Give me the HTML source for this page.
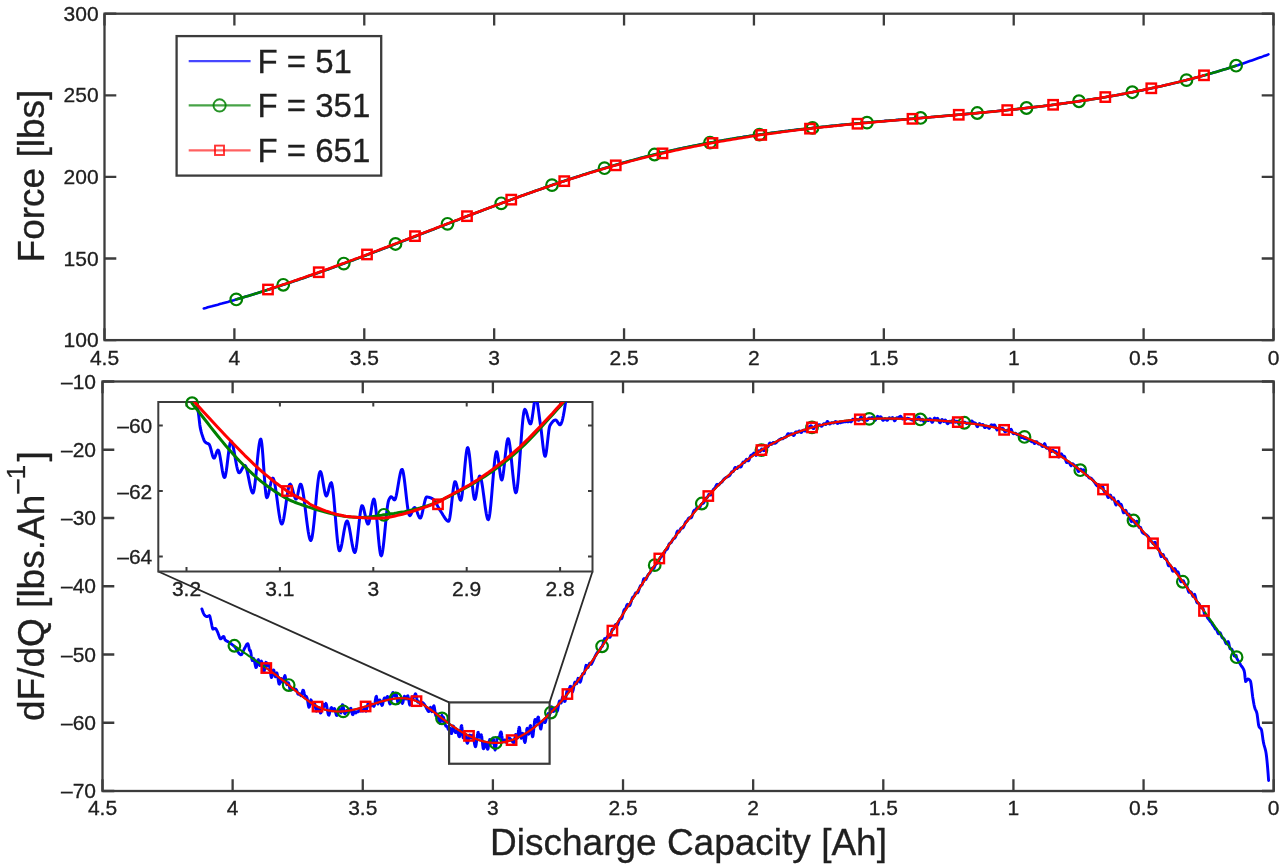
<!DOCTYPE html><html><head><meta charset="utf-8"><title>Force and dF/dQ vs Discharge Capacity</title><style>
html,body{margin:0;padding:0;background:#fff;overflow:hidden}svg{display:block}
text{font-family:"Liberation Sans",sans-serif;fill:#202020;stroke:#202020;stroke-width:0.3px}
.tk{font-size:21px}.lab{font-size:37px}.leg{font-size:33px}
</style></head><body>
<svg width="1280" height="865" viewBox="0 0 1280 865">
<rect width="1280" height="865" fill="#fff"/>
<defs><clipPath id="ct"><rect x="104.5" y="13.7" width="1169.0" height="326.4"/></clipPath>
<clipPath id="cb"><rect x="102.5" y="381.5" width="1171.2" height="409.5"/></clipPath>
<clipPath id="ci"><rect x="158.3" y="402.0" width="434.2" height="169.5"/></clipPath></defs>
<rect x="104.50" y="13.70" width="1169.00" height="326.40" fill="none" stroke="#3c3c3c" stroke-width="2.3"/>
<path d="M104.50 340.10V328.30M104.50 13.70V25.50M234.39 340.10V328.30M234.39 13.70V25.50M364.28 340.10V328.30M364.28 13.70V25.50M494.17 340.10V328.30M494.17 13.70V25.50M624.06 340.10V328.30M624.06 13.70V25.50M753.94 340.10V328.30M753.94 13.70V25.50M883.83 340.10V328.30M883.83 13.70V25.50M1013.72 340.10V328.30M1013.72 13.70V25.50M1143.61 340.10V328.30M1143.61 13.70V25.50M1273.50 340.10V328.30M1273.50 13.70V25.50M104.50 340.10H116.30M1273.50 340.10H1261.70M104.50 258.50H116.30M1273.50 258.50H1261.70M104.50 176.90H116.30M1273.50 176.90H1261.70M104.50 95.30H116.30M1273.50 95.30H1261.70M104.50 13.70H116.30M1273.50 13.70H1261.70" fill="none" stroke="#3c3c3c" stroke-width="2.3"/>
<g fill="none" stroke-linejoin="round" stroke-linecap="round">
<polyline points="203.8,308.4 205.8,307.9 207.8,307.3 209.8,306.8 211.8,306.3 213.8,305.7 215.8,305.2 217.8,304.7 219.8,304.1 221.8,303.6 223.8,303.0 225.8,302.4 227.8,301.9 229.8,301.3 231.8,300.7 233.8,300.2 235.8,299.6 237.8,299.0 239.8,298.4 241.8,297.8 243.8,297.2 245.8,296.6 247.8,296.0 249.8,295.4 251.8,294.8 253.8,294.2 255.8,293.6 257.8,293.0 259.8,292.3 261.8,291.7 263.8,291.1 265.8,290.4 267.8,289.8 269.8,289.2 271.8,288.5 273.8,287.9 275.8,287.2 277.8,286.6 279.8,285.9 281.8,285.3 283.8,284.6 285.8,284.0 287.8,283.3 289.8,282.6 291.8,281.9 293.8,281.3 295.8,280.6 297.8,279.9 299.8,279.2 301.8,278.5 303.8,277.9 305.8,277.2 307.8,276.5 309.8,275.8 311.8,275.1 313.8,274.4 315.8,273.7 317.8,273.0 319.8,272.3 321.8,271.5 323.8,270.8 325.8,270.1 327.8,269.4 329.8,268.7 331.8,267.9 333.8,267.2 335.8,266.5 337.8,265.8 339.8,265.0 341.8,264.3 343.8,263.6 345.8,262.8 347.8,262.1 349.8,261.4 351.8,260.6 353.8,259.9 355.8,259.1 357.8,258.4 359.8,257.6 361.8,256.9 363.8,256.1 365.8,255.4 367.8,254.6 369.8,253.8 371.8,253.1 373.8,252.3 375.8,251.6 377.8,250.8 379.8,250.0 381.8,249.3 383.8,248.5 385.8,247.7 387.8,247.0 389.8,246.2 391.8,245.4 393.8,244.7 395.8,243.9 397.8,243.1 399.8,242.4 401.8,241.6 403.8,240.8 405.8,240.0 407.8,239.3 409.8,238.5 411.8,237.7 413.8,236.9 415.8,236.2 417.8,235.4 419.8,234.6 421.8,233.8 423.8,233.0 425.8,232.3 427.8,231.5 429.8,230.7 431.8,229.9 433.8,229.2 435.8,228.4 437.8,227.6 439.8,226.8 441.8,226.0 443.8,225.3 445.8,224.5 447.8,223.7 449.8,222.9 451.8,222.2 453.8,221.4 455.8,220.6 457.8,219.9 459.8,219.1 461.8,218.3 463.8,217.5 465.8,216.8 467.8,216.0 469.8,215.2 471.8,214.5 473.8,213.7 475.8,212.9 477.8,212.2 479.8,211.4 481.8,210.7 483.8,209.9 485.8,209.1 487.8,208.4 489.8,207.6 491.8,206.9 493.8,206.1 495.8,205.4 497.8,204.6 499.8,203.9 501.8,203.1 503.8,202.4 505.8,201.7 507.8,200.9 509.8,200.2 511.8,199.4 513.8,198.7 515.8,198.0 517.8,197.2 519.8,196.5 521.8,195.8 523.8,195.1 525.8,194.3 527.8,193.6 529.8,192.9 531.8,192.2 533.8,191.5 535.8,190.8 537.8,190.1 539.8,189.4 541.8,188.7 543.8,188.0 545.8,187.3 547.8,186.6 549.8,185.9 551.8,185.2 553.8,184.5 555.8,183.8 557.8,183.2 559.8,182.5 561.8,181.8 563.8,181.1 565.8,180.5 567.8,179.8 569.8,179.1 571.8,178.5 573.8,177.8 575.8,177.2 577.8,176.5 579.8,175.9 581.8,175.2 583.8,174.6 585.8,174.0 587.8,173.3 589.8,172.7 591.8,172.1 593.8,171.5 595.8,170.8 597.8,170.2 599.8,169.6 601.8,169.0 603.8,168.4 605.8,167.8 607.8,167.2 609.8,166.6 611.8,166.0 613.8,165.5 615.8,164.9 617.8,164.3 619.8,163.7 621.8,163.2 623.8,162.6 625.8,162.0 627.8,161.5 629.8,160.9 631.8,160.4 633.8,159.9 635.8,159.3 637.8,158.8 639.8,158.3 641.8,157.7 643.8,157.2 645.8,156.7 647.8,156.2 649.8,155.7 651.8,155.2 653.8,154.7 655.8,154.2 657.8,153.7 659.8,153.2 661.8,152.8 663.8,152.3 665.8,151.8 667.8,151.4 669.8,150.9 671.8,150.5 673.8,150.0 675.8,149.6 677.8,149.1 679.8,148.7 681.8,148.3 683.8,147.8 685.8,147.4 687.8,147.0 689.8,146.6 691.8,146.2 693.8,145.8 695.8,145.4 697.8,145.0 699.8,144.6 701.8,144.2 703.8,143.8 705.8,143.4 707.8,143.1 709.8,142.7 711.8,142.3 713.8,142.0 715.8,141.6 717.8,141.2 719.8,140.9 721.8,140.5 723.8,140.2 725.8,139.9 727.8,139.5 729.8,139.2 731.8,138.9 733.8,138.5 735.8,138.2 737.8,137.9 739.8,137.6 741.8,137.2 743.8,136.9 745.8,136.6 747.8,136.3 749.8,136.0 751.8,135.7 753.8,135.4 755.8,135.1 757.8,134.8 759.8,134.6 761.8,134.3 763.8,134.0 765.8,133.7 767.8,133.4 769.8,133.2 771.8,132.9 773.8,132.6 775.8,132.4 777.8,132.1 779.8,131.9 781.8,131.6 783.8,131.3 785.8,131.1 787.8,130.9 789.8,130.6 791.8,130.4 793.8,130.1 795.8,129.9 797.8,129.6 799.8,129.4 801.8,129.2 803.8,129.0 805.8,128.7 807.8,128.5 809.8,128.3 811.8,128.1 813.8,127.8 815.8,127.6 817.8,127.4 819.8,127.2 821.8,127.0 823.8,126.8 825.8,126.6 827.8,126.3 829.8,126.1 831.8,125.9 833.8,125.7 835.8,125.5 837.8,125.3 839.8,125.1 841.8,124.9 843.8,124.8 845.8,124.6 847.8,124.4 849.8,124.2 851.8,124.0 853.8,123.8 855.8,123.6 857.8,123.4 859.8,123.2 861.8,123.1 863.8,122.9 865.8,122.7 867.8,122.5 869.8,122.3 871.8,122.2 873.8,122.0 875.8,121.8 877.8,121.6 879.8,121.5 881.8,121.3 883.8,121.1 885.8,120.9 887.8,120.8 889.8,120.6 891.8,120.4 893.8,120.2 895.8,120.1 897.8,119.9 899.8,119.7 901.8,119.6 903.8,119.4 905.8,119.2 907.8,119.1 909.8,118.9 911.8,118.7 913.8,118.5 915.8,118.4 917.8,118.2 919.8,118.0 921.8,117.9 923.8,117.7 925.8,117.5 927.8,117.4 929.8,117.2 931.8,117.0 933.8,116.9 935.8,116.7 937.8,116.5 939.8,116.3 941.8,116.2 943.8,116.0 945.8,115.8 947.8,115.7 949.8,115.5 951.8,115.3 953.8,115.1 955.8,115.0 957.8,114.8 959.8,114.6 961.8,114.4 963.8,114.3 965.8,114.1 967.8,113.9 969.8,113.7 971.8,113.5 973.8,113.3 975.8,113.2 977.8,113.0 979.8,112.8 981.8,112.6 983.8,112.4 985.8,112.2 987.8,112.0 989.8,111.8 991.8,111.6 993.8,111.4 995.8,111.2 997.8,111.0 999.8,110.8 1001.8,110.6 1003.8,110.4 1005.8,110.2 1007.8,110.0 1009.8,109.8 1011.8,109.6 1013.8,109.4 1015.8,109.2 1017.8,109.0 1019.8,108.7 1021.8,108.5 1023.8,108.3 1025.8,108.1 1027.8,107.9 1029.8,107.6 1031.8,107.4 1033.8,107.2 1035.8,106.9 1037.8,106.7 1039.8,106.5 1041.8,106.2 1043.8,106.0 1045.8,105.7 1047.8,105.5 1049.8,105.2 1051.8,105.0 1053.8,104.7 1055.8,104.5 1057.8,104.2 1059.8,103.9 1061.8,103.7 1063.8,103.4 1065.8,103.1 1067.8,102.8 1069.8,102.6 1071.8,102.3 1073.8,102.0 1075.8,101.7 1077.8,101.4 1079.8,101.1 1081.8,100.8 1083.8,100.5 1085.8,100.2 1087.8,99.9 1089.8,99.6 1091.8,99.3 1093.8,99.0 1095.8,98.7 1097.8,98.4 1099.8,98.0 1101.8,97.7 1103.8,97.4 1105.8,97.0 1107.8,96.7 1109.8,96.4 1111.8,96.0 1113.8,95.7 1115.8,95.3 1117.8,94.9 1119.8,94.6 1121.8,94.2 1123.8,93.9 1125.8,93.5 1127.8,93.1 1129.8,92.7 1131.8,92.3 1133.8,91.9 1135.8,91.6 1137.8,91.2 1139.8,90.8 1141.8,90.4 1143.8,89.9 1145.8,89.5 1147.8,89.1 1149.8,88.7 1151.8,88.3 1153.8,87.8 1155.8,87.4 1157.8,86.9 1159.8,86.5 1161.8,86.1 1163.8,85.6 1165.8,85.1 1167.8,84.7 1169.8,84.2 1171.8,83.7 1173.8,83.3 1175.8,82.8 1177.8,82.3 1179.8,81.8 1181.8,81.3 1183.8,80.8 1185.8,80.3 1187.8,79.8 1189.8,79.3 1191.8,78.7 1193.8,78.2 1195.8,77.7 1197.8,77.1 1199.8,76.6 1201.8,76.0 1203.8,75.5 1205.8,74.9 1207.8,74.4 1209.8,73.8 1211.8,73.2 1213.8,72.6 1215.8,72.0 1217.8,71.4 1219.8,70.8 1221.8,70.2 1223.8,69.6 1225.8,69.0 1227.8,68.4 1229.8,67.8 1231.8,67.1 1233.8,66.5 1235.8,65.8 1237.8,65.2 1239.8,64.5 1241.8,63.9 1243.8,63.2 1245.8,62.5 1247.8,61.8 1249.8,61.1 1251.8,60.4 1253.8,59.7 1255.8,59.0 1257.8,58.3 1259.8,57.6 1261.8,56.9 1263.8,56.1 1265.8,55.4 1267.8,54.7 1268.4,54.4" stroke="#0000ff" stroke-width="2.6"/>
<polyline points="236.2,299.4 238.2,298.8 240.2,298.3 242.2,297.7 244.2,297.1 246.2,296.5 248.2,295.9 250.2,295.3 252.2,294.7 254.2,294.0 256.2,293.4 258.2,292.8 260.2,292.2 262.2,291.6 264.2,290.9 266.2,290.3 268.2,289.7 270.2,289.0 272.2,288.4 274.2,287.7 276.2,287.1 278.2,286.4 280.2,285.8 282.2,285.1 284.2,284.4 286.2,283.8 288.2,283.1 290.2,282.4 292.2,281.8 294.2,281.1 296.2,280.4 298.2,279.7 300.2,279.1 302.2,278.4 304.2,277.7 306.2,277.0 308.2,276.3 310.2,275.6 312.2,274.9 314.2,274.2 316.2,273.5 318.2,272.8 320.2,272.1 322.2,271.4 324.2,270.6 326.2,269.9 328.2,269.2 330.2,268.5 332.2,267.8 334.2,267.0 336.2,266.3 338.2,265.6 340.2,264.9 342.2,264.1 344.2,263.4 346.2,262.6 348.2,261.9 350.2,261.2 352.2,260.4 354.2,259.7 356.2,258.9 358.2,258.2 360.2,257.4 362.2,256.7 364.2,255.9 366.2,255.2 368.2,254.4 370.2,253.7 372.2,252.9 374.2,252.1 376.2,251.4 378.2,250.6 380.2,249.9 382.2,249.1 384.2,248.3 386.2,247.6 388.2,246.8 390.2,246.0 392.2,245.2 394.2,244.5 396.2,243.7 398.2,242.9 400.2,242.2 402.2,241.4 404.2,240.6 406.2,239.8 408.2,239.1 410.2,238.3 412.2,237.5 414.2,236.7 416.2,236.0 418.2,235.2 420.2,234.4 422.2,233.6 424.2,232.8 426.2,232.1 428.2,231.3 430.2,230.5 432.2,229.7 434.2,229.0 436.2,228.2 438.2,227.4 440.2,226.6 442.2,225.9 444.2,225.1 446.2,224.3 448.2,223.5 450.2,222.8 452.2,222.0 454.2,221.2 456.2,220.4 458.2,219.7 460.2,218.9 462.2,218.1 464.2,217.3 466.2,216.6 468.2,215.8 470.2,215.0 472.2,214.3 474.2,213.5 476.2,212.8 478.2,212.0 480.2,211.2 482.2,210.5 484.2,209.7 486.2,209.0 488.2,208.2 490.2,207.4 492.2,206.7 494.2,205.9 496.2,205.2 498.2,204.4 500.2,203.7 502.2,203.0 504.2,202.2 506.2,201.5 508.2,200.7 510.2,200.0 512.2,199.3 514.2,198.5 516.2,197.8 518.2,197.1 520.2,196.3 522.2,195.6 524.2,194.9 526.2,194.2 528.2,193.5 530.2,192.7 532.2,192.0 534.2,191.3 536.2,190.6 538.2,189.9 540.2,189.2 542.2,188.5 544.2,187.8 546.2,187.1 548.2,186.4 550.2,185.7 552.2,185.0 554.2,184.3 556.2,183.7 558.2,183.0 560.2,182.3 562.2,181.6 564.2,181.0 566.2,180.3 568.2,179.6 570.2,179.0 572.2,178.3 574.2,177.7 576.2,177.0 578.2,176.4 580.2,175.7 582.2,175.1 584.2,174.4 586.2,173.8 588.2,173.2 590.2,172.5 592.2,171.9 594.2,171.3 596.2,170.7 598.2,170.1 600.2,169.5 602.2,168.9 604.2,168.3 606.2,167.7 608.2,167.1 610.2,166.5 612.2,165.9 614.2,165.3 616.2,164.7 618.2,164.2 620.2,163.6 622.2,163.0 624.2,162.5 626.2,161.9 628.2,161.3 630.2,160.8 632.2,160.3 634.2,159.7 636.2,159.2 638.2,158.7 640.2,158.1 642.2,157.6 644.2,157.1 646.2,156.6 648.2,156.1 650.2,155.6 652.2,155.1 654.2,154.6 656.2,154.1 658.2,153.6 660.2,153.1 662.2,152.6 664.2,152.2 666.2,151.7 668.2,151.3 670.2,150.8 672.2,150.3 674.2,149.9 676.2,149.5 678.2,149.0 680.2,148.6 682.2,148.2 684.2,147.7 686.2,147.3 688.2,146.9 690.2,146.5 692.2,146.1 694.2,145.7 696.2,145.3 698.2,144.9 700.2,144.5 702.2,144.1 704.2,143.7 706.2,143.3 708.2,143.0 710.2,142.6 712.2,142.2 714.2,141.9 716.2,141.5 718.2,141.2 720.2,140.8 722.2,140.5 724.2,140.1 726.2,139.8 728.2,139.4 730.2,139.1 732.2,138.8 734.2,138.4 736.2,138.1 738.2,137.8 740.2,137.5 742.2,137.2 744.2,136.9 746.2,136.6 748.2,136.2 750.2,135.9 752.2,135.7 754.2,135.4 756.2,135.1 758.2,134.8 760.2,134.5 762.2,134.2 764.2,133.9 766.2,133.7 768.2,133.4 770.2,133.1 772.2,132.8 774.2,132.6 776.2,132.3 778.2,132.1 780.2,131.8 782.2,131.5 784.2,131.3 786.2,131.0 788.2,130.8 790.2,130.5 792.2,130.3 794.2,130.1 796.2,129.8 798.2,129.6 800.2,129.4 802.2,129.1 804.2,128.9 806.2,128.7 808.2,128.4 810.2,128.2 812.2,128.0 814.2,127.8 816.2,127.6 818.2,127.3 820.2,127.1 822.2,126.9 824.2,126.7 826.2,126.5 828.2,126.3 830.2,126.1 832.2,125.9 834.2,125.7 836.2,125.5 838.2,125.3 840.2,125.1 842.2,124.9 844.2,124.7 846.2,124.5 848.2,124.3 850.2,124.1 852.2,123.9 854.2,123.8 856.2,123.6 858.2,123.4 860.2,123.2 862.2,123.0 864.2,122.8 866.2,122.7 868.2,122.5 870.2,122.3 872.2,122.1 874.2,121.9 876.2,121.8 878.2,121.6 880.2,121.4 882.2,121.2 884.2,121.1 886.2,120.9 888.2,120.7 890.2,120.5 892.2,120.4 894.2,120.2 896.2,120.0 898.2,119.9 900.2,119.7 902.2,119.5 904.2,119.4 906.2,119.2 908.2,119.0 910.2,118.8 912.2,118.7 914.2,118.5 916.2,118.3 918.2,118.2 920.2,118.0 922.2,117.8 924.2,117.7 926.2,117.5 928.2,117.3 930.2,117.2 932.2,117.0 934.2,116.8 936.2,116.6 938.2,116.5 940.2,116.3 942.2,116.1 944.2,116.0 946.2,115.8 948.2,115.6 950.2,115.4 952.2,115.3 954.2,115.1 956.2,114.9 958.2,114.7 960.2,114.6 962.2,114.4 964.2,114.2 966.2,114.0 968.2,113.8 970.2,113.7 972.2,113.5 974.2,113.3 976.2,113.1 978.2,112.9 980.2,112.7 982.2,112.6 984.2,112.4 986.2,112.2 988.2,112.0 990.2,111.8 992.2,111.6 994.2,111.4 996.2,111.2 998.2,111.0 1000.2,110.8 1002.2,110.6 1004.2,110.4 1006.2,110.2 1008.2,110.0 1010.2,109.8 1012.2,109.6 1014.2,109.3 1016.2,109.1 1018.2,108.9 1020.2,108.7 1022.2,108.5 1024.2,108.3 1026.2,108.0 1028.2,107.8 1030.2,107.6 1032.2,107.3 1034.2,107.1 1036.2,106.9 1038.2,106.6 1040.2,106.4 1042.2,106.2 1044.2,105.9 1046.2,105.7 1048.2,105.4 1050.2,105.2 1052.2,104.9 1054.2,104.7 1056.2,104.4 1058.2,104.1 1060.2,103.9 1062.2,103.6 1064.2,103.3 1066.2,103.1 1068.2,102.8 1070.2,102.5 1072.2,102.2 1074.2,101.9 1076.2,101.6 1078.2,101.4 1080.2,101.1 1082.2,100.8 1084.2,100.5 1086.2,100.2 1088.2,99.9 1090.2,99.6 1092.2,99.2 1094.2,98.9 1096.2,98.6 1098.2,98.3 1100.2,98.0 1102.2,97.6 1104.2,97.3 1106.2,97.0 1108.2,96.6 1110.2,96.3 1112.2,95.9 1114.2,95.6 1116.2,95.2 1118.2,94.9 1120.2,94.5 1122.2,94.1 1124.2,93.8 1126.2,93.4 1128.2,93.0 1130.2,92.6 1132.2,92.2 1134.2,91.8 1136.2,91.5 1138.2,91.1 1140.2,90.7 1142.2,90.2 1144.2,89.8 1146.2,89.4 1148.2,89.0 1150.2,88.6 1152.2,88.1 1154.2,87.7 1156.2,87.3 1158.2,86.8 1160.2,86.4 1162.2,85.9 1164.2,85.5 1166.2,85.0 1168.2,84.6 1170.2,84.1 1172.2,83.6 1174.2,83.1 1176.2,82.7 1178.2,82.2 1180.2,81.7 1182.2,81.2 1184.2,80.7 1186.2,80.2 1188.2,79.6 1190.2,79.1 1192.2,78.6 1194.2,78.1 1196.2,77.5 1198.2,77.0 1200.2,76.4 1202.2,75.9 1204.2,75.3 1206.2,74.8 1208.2,74.2 1210.2,73.6 1212.2,73.1 1214.2,72.5 1216.2,71.9 1218.2,71.3 1220.2,70.7 1222.2,70.1 1224.2,69.5 1226.2,68.9 1228.2,68.2 1230.2,67.6 1232.2,67.0 1234.2,66.3 1236.1,65.7" stroke="#008000" stroke-width="2.6"/>
</g>
<circle cx="236.25" cy="299.43" r="5.80" fill="none" stroke="#008000" stroke-width="2.2"/>
<circle cx="283.25" cy="284.78" r="5.80" fill="none" stroke="#008000" stroke-width="2.2"/>
<circle cx="343.75" cy="263.57" r="5.80" fill="none" stroke="#008000" stroke-width="2.2"/>
<circle cx="395.50" cy="243.99" r="5.80" fill="none" stroke="#008000" stroke-width="2.2"/>
<circle cx="447.50" cy="223.82" r="5.80" fill="none" stroke="#008000" stroke-width="2.2"/>
<circle cx="501.25" cy="203.32" r="5.80" fill="none" stroke="#008000" stroke-width="2.2"/>
<circle cx="552.00" cy="185.11" r="5.80" fill="none" stroke="#008000" stroke-width="2.2"/>
<circle cx="604.50" cy="168.18" r="5.80" fill="none" stroke="#008000" stroke-width="2.2"/>
<circle cx="654.50" cy="154.51" r="5.80" fill="none" stroke="#008000" stroke-width="2.2"/>
<circle cx="710.00" cy="142.65" r="5.80" fill="none" stroke="#008000" stroke-width="2.2"/>
<circle cx="759.50" cy="134.60" r="5.80" fill="none" stroke="#008000" stroke-width="2.2"/>
<circle cx="812.50" cy="127.97" r="5.80" fill="none" stroke="#008000" stroke-width="2.2"/>
<circle cx="867.00" cy="122.59" r="5.80" fill="none" stroke="#008000" stroke-width="2.2"/>
<circle cx="920.60" cy="117.97" r="5.80" fill="none" stroke="#008000" stroke-width="2.2"/>
<circle cx="977.25" cy="113.02" r="5.80" fill="none" stroke="#008000" stroke-width="2.2"/>
<circle cx="1026.50" cy="108.00" r="5.80" fill="none" stroke="#008000" stroke-width="2.2"/>
<circle cx="1079.00" cy="101.25" r="5.80" fill="none" stroke="#008000" stroke-width="2.2"/>
<circle cx="1132.30" cy="92.23" r="5.80" fill="none" stroke="#008000" stroke-width="2.2"/>
<circle cx="1186.50" cy="80.09" r="5.80" fill="none" stroke="#008000" stroke-width="2.2"/>
<circle cx="1236.10" cy="65.72" r="5.80" fill="none" stroke="#008000" stroke-width="2.2"/>
<polyline fill="none" stroke-linejoin="round" stroke-linecap="round" points="268.0,289.5 270.0,288.9 272.0,288.2 274.0,287.6 276.0,286.9 278.0,286.2 280.0,285.6 282.0,284.9 284.0,284.3 286.0,283.6 288.0,282.9 290.0,282.2 292.0,281.6 294.0,280.9 296.0,280.2 298.0,279.5 300.0,278.8 302.0,278.1 304.0,277.4 306.0,276.7 308.0,276.0 310.0,275.3 312.0,274.6 314.0,273.9 316.0,273.2 318.0,272.5 320.0,271.8 322.0,271.1 324.0,270.3 326.0,269.6 328.0,268.9 330.0,268.2 332.0,267.5 334.0,266.7 336.0,266.0 338.0,265.3 340.0,264.5 342.0,263.8 344.0,263.1 346.0,262.3 348.0,261.6 350.0,260.8 352.0,260.1 354.0,259.3 356.0,258.6 358.0,257.9 360.0,257.1 362.0,256.4 364.0,255.6 366.0,254.8 368.0,254.1 370.0,253.3 372.0,252.6 374.0,251.8 376.0,251.1 378.0,250.3 380.0,249.5 382.0,248.8 384.0,248.0 386.0,247.3 388.0,246.5 390.0,245.7 392.0,245.0 394.0,244.2 396.0,243.4 398.0,242.7 400.0,241.9 402.0,241.1 404.0,240.4 406.0,239.6 408.0,238.8 410.0,238.1 412.0,237.3 414.0,236.5 416.0,235.7 418.0,235.0 420.0,234.2 422.0,233.4 424.0,232.7 426.0,231.9 428.0,231.1 430.0,230.3 432.0,229.6 434.0,228.8 436.0,228.0 438.0,227.3 440.0,226.5 442.0,225.7 444.0,225.0 446.0,224.2 448.0,223.4 450.0,222.7 452.0,221.9 454.0,221.1 456.0,220.4 458.0,219.6 460.0,218.8 462.0,218.1 464.0,217.3 466.0,216.5 468.0,215.8 470.0,215.0 472.0,214.3 474.0,213.5 476.0,212.7 478.0,212.0 480.0,211.2 482.0,210.5 484.0,209.7 486.0,209.0 488.0,208.2 490.0,207.5 492.0,206.7 494.0,206.0 496.0,205.2 498.0,204.5 500.0,203.8 502.0,203.0 504.0,202.3 506.0,201.6 508.0,200.8 510.0,200.1 512.0,199.4 514.0,198.6 516.0,197.9 518.0,197.2 520.0,196.5 522.0,195.7 524.0,195.0 526.0,194.3 528.0,193.6 530.0,192.9 532.0,192.2 534.0,191.5 536.0,190.8 538.0,190.1 540.0,189.4 542.0,188.7 544.0,188.0 546.0,187.3 548.0,186.6 550.0,185.9 552.0,185.2 554.0,184.6 556.0,183.9 558.0,183.2 560.0,182.6 562.0,181.9 564.0,181.2 566.0,180.6 568.0,179.9 570.0,179.3 572.0,178.6 574.0,178.0 576.0,177.3 578.0,176.7 580.0,176.0 582.0,175.4 584.0,174.8 586.0,174.2 588.0,173.5 590.0,172.9 592.0,172.3 594.0,171.7 596.0,171.1 598.0,170.5 600.0,169.9 602.0,169.3 604.0,168.7 606.0,168.1 608.0,167.5 610.0,167.0 612.0,166.4 614.0,165.8 616.0,165.3 618.0,164.7 620.0,164.2 622.0,163.6 624.0,163.1 626.0,162.5 628.0,162.0 630.0,161.4 632.0,160.9 634.0,160.4 636.0,159.9 638.0,159.4 640.0,158.8 642.0,158.3 644.0,157.8 646.0,157.3 648.0,156.8 650.0,156.3 652.0,155.9 654.0,155.4 656.0,154.9 658.0,154.4 660.0,154.0 662.0,153.5 664.0,153.0 666.0,152.6 668.0,152.1 670.0,151.7 672.0,151.2 674.0,150.8 676.0,150.3 678.0,149.9 680.0,149.5 682.0,149.0 684.0,148.6 686.0,148.2 688.0,147.8 690.0,147.4 692.0,147.0 694.0,146.6 696.0,146.2 698.0,145.8 700.0,145.4 702.0,145.0 704.0,144.6 706.0,144.2 708.0,143.8 710.0,143.4 712.0,143.1 714.0,142.7 716.0,142.3 718.0,142.0 720.0,141.6 722.0,141.3 724.0,140.9 726.0,140.6 728.0,140.2 730.0,139.9 732.0,139.5 734.0,139.2 736.0,138.9 738.0,138.5 740.0,138.2 742.0,137.9 744.0,137.6 746.0,137.3 748.0,136.9 750.0,136.6 752.0,136.3 754.0,136.0 756.0,135.7 758.0,135.4 760.0,135.1 762.0,134.8 764.0,134.6 766.0,134.3 768.0,134.0 770.0,133.7 772.0,133.4 774.0,133.2 776.0,132.9 778.0,132.6 780.0,132.4 782.0,132.1 784.0,131.8 786.0,131.6 788.0,131.3 790.0,131.1 792.0,130.8 794.0,130.6 796.0,130.3 798.0,130.1 800.0,129.8 802.0,129.6 804.0,129.4 806.0,129.1 808.0,128.9 810.0,128.7 812.0,128.4 814.0,128.2 816.0,128.0 818.0,127.8 820.0,127.5 822.0,127.3 824.0,127.1 826.0,126.9 828.0,126.7 830.0,126.5 832.0,126.3 834.0,126.1 836.0,125.9 838.0,125.6 840.0,125.4 842.0,125.2 844.0,125.0 846.0,124.8 848.0,124.6 850.0,124.5 852.0,124.3 854.0,124.1 856.0,123.9 858.0,123.7 860.0,123.5 862.0,123.3 864.0,123.1 866.0,122.9 868.0,122.7 870.0,122.6 872.0,122.4 874.0,122.2 876.0,122.0 878.0,121.8 880.0,121.7 882.0,121.5 884.0,121.3 886.0,121.1 888.0,120.9 890.0,120.8 892.0,120.6 894.0,120.4 896.0,120.2 898.0,120.1 900.0,119.9 902.0,119.7 904.0,119.5 906.0,119.4 908.0,119.2 910.0,119.0 912.0,118.9 914.0,118.7 916.0,118.5 918.0,118.3 920.0,118.2 922.0,118.0 924.0,117.8 926.0,117.6 928.0,117.5 930.0,117.3 932.0,117.1 934.0,117.0 936.0,116.8 938.0,116.6 940.0,116.4 942.0,116.3 944.0,116.1 946.0,115.9 948.0,115.7 950.0,115.6 952.0,115.4 954.0,115.2 956.0,115.0 958.0,114.8 960.0,114.7 962.0,114.5 964.0,114.3 966.0,114.1 968.0,113.9 970.0,113.8 972.0,113.6 974.0,113.4 976.0,113.2 978.0,113.0 980.0,112.8 982.0,112.6 984.0,112.4 986.0,112.2 988.0,112.0 990.0,111.9 992.0,111.7 994.0,111.5 996.0,111.3 998.0,111.1 1000.0,110.9 1002.0,110.6 1004.0,110.4 1006.0,110.2 1008.0,110.0 1010.0,109.8 1012.0,109.6 1014.0,109.4 1016.0,109.2 1018.0,109.0 1020.0,108.7 1022.0,108.5 1024.0,108.3 1026.0,108.1 1028.0,107.8 1030.0,107.6 1032.0,107.4 1034.0,107.1 1036.0,106.9 1038.0,106.7 1040.0,106.4 1042.0,106.2 1044.0,105.9 1046.0,105.7 1048.0,105.4 1050.0,105.2 1052.0,104.9 1054.0,104.7 1056.0,104.4 1058.0,104.1 1060.0,103.9 1062.0,103.6 1064.0,103.3 1066.0,103.1 1068.0,102.8 1070.0,102.5 1072.0,102.2 1074.0,101.9 1076.0,101.7 1078.0,101.4 1080.0,101.1 1082.0,100.8 1084.0,100.5 1086.0,100.2 1088.0,99.9 1090.0,99.6 1092.0,99.2 1094.0,98.9 1096.0,98.6 1098.0,98.3 1100.0,98.0 1102.0,97.6 1104.0,97.3 1106.0,96.9 1108.0,96.6 1110.0,96.3 1112.0,95.9 1114.0,95.6 1116.0,95.2 1118.0,94.9 1120.0,94.5 1122.0,94.1 1124.0,93.7 1126.0,93.4 1128.0,93.0 1130.0,92.6 1132.0,92.2 1134.0,91.8 1136.0,91.4 1138.0,91.0 1140.0,90.6 1142.0,90.2 1144.0,89.8 1146.0,89.4 1148.0,89.0 1150.0,88.6 1152.0,88.1 1154.0,87.7 1156.0,87.3 1158.0,86.8 1160.0,86.4 1162.0,85.9 1164.0,85.5 1166.0,85.0 1168.0,84.5 1170.0,84.1 1172.0,83.6 1174.0,83.1 1176.0,82.6 1178.0,82.1 1180.0,81.6 1182.0,81.1 1184.0,80.6 1186.0,80.1 1188.0,79.6 1190.0,79.1 1192.0,78.6 1194.0,78.0 1196.0,77.5 1198.0,77.0 1200.0,76.4 1202.0,75.9 1204.0,75.3" stroke="#ff0000" stroke-width="2.5"/>
<rect x="263.30" y="284.81" width="9.40" height="9.40" fill="none" stroke="#ff0000" stroke-width="2.4"/>
<rect x="314.05" y="267.52" width="9.40" height="9.40" fill="none" stroke="#ff0000" stroke-width="2.4"/>
<rect x="362.30" y="249.77" width="9.40" height="9.40" fill="none" stroke="#ff0000" stroke-width="2.4"/>
<rect x="410.30" y="231.43" width="9.40" height="9.40" fill="none" stroke="#ff0000" stroke-width="2.4"/>
<rect x="462.30" y="211.46" width="9.40" height="9.40" fill="none" stroke="#ff0000" stroke-width="2.4"/>
<rect x="506.55" y="194.93" width="9.40" height="9.40" fill="none" stroke="#ff0000" stroke-width="2.4"/>
<rect x="559.55" y="176.44" width="9.40" height="9.40" fill="none" stroke="#ff0000" stroke-width="2.4"/>
<rect x="611.05" y="160.64" width="9.40" height="9.40" fill="none" stroke="#ff0000" stroke-width="2.4"/>
<rect x="657.80" y="148.67" width="9.40" height="9.40" fill="none" stroke="#ff0000" stroke-width="2.4"/>
<rect x="707.80" y="138.28" width="9.40" height="9.40" fill="none" stroke="#ff0000" stroke-width="2.4"/>
<rect x="756.55" y="130.25" width="9.40" height="9.40" fill="none" stroke="#ff0000" stroke-width="2.4"/>
<rect x="805.30" y="123.96" width="9.40" height="9.40" fill="none" stroke="#ff0000" stroke-width="2.4"/>
<rect x="852.80" y="119.03" width="9.40" height="9.40" fill="none" stroke="#ff0000" stroke-width="2.4"/>
<rect x="907.80" y="114.11" width="9.40" height="9.40" fill="none" stroke="#ff0000" stroke-width="2.4"/>
<rect x="954.05" y="110.08" width="9.40" height="9.40" fill="none" stroke="#ff0000" stroke-width="2.4"/>
<rect x="1002.55" y="105.40" width="9.40" height="9.40" fill="none" stroke="#ff0000" stroke-width="2.4"/>
<rect x="1048.40" y="100.09" width="9.40" height="9.40" fill="none" stroke="#ff0000" stroke-width="2.4"/>
<rect x="1100.60" y="92.37" width="9.40" height="9.40" fill="none" stroke="#ff0000" stroke-width="2.4"/>
<rect x="1146.60" y="83.58" width="9.40" height="9.40" fill="none" stroke="#ff0000" stroke-width="2.4"/>
<rect x="1199.30" y="70.61" width="9.40" height="9.40" fill="none" stroke="#ff0000" stroke-width="2.4"/>
<text class="tk" x="104.50" y="364.90" text-anchor="middle">4.5</text>
<text class="tk" x="234.39" y="364.90" text-anchor="middle">4</text>
<text class="tk" x="364.28" y="364.90" text-anchor="middle">3.5</text>
<text class="tk" x="494.17" y="364.90" text-anchor="middle">3</text>
<text class="tk" x="624.06" y="364.90" text-anchor="middle">2.5</text>
<text class="tk" x="753.94" y="364.90" text-anchor="middle">2</text>
<text class="tk" x="883.83" y="364.90" text-anchor="middle">1.5</text>
<text class="tk" x="1013.72" y="364.90" text-anchor="middle">1</text>
<text class="tk" x="1143.61" y="364.90" text-anchor="middle">0.5</text>
<text class="tk" x="1273.50" y="364.90" text-anchor="middle">0</text>
<text class="tk" x="98.60" y="347.10" text-anchor="end">100</text>
<text class="tk" x="98.60" y="265.50" text-anchor="end">150</text>
<text class="tk" x="98.60" y="183.90" text-anchor="end">200</text>
<text class="tk" x="98.60" y="102.30" text-anchor="end">250</text>
<text class="tk" x="98.60" y="20.70" text-anchor="end">300</text>
<text class="lab" transform="translate(43.5,176.1) rotate(-90)" text-anchor="middle">Force [lbs]</text>
<rect x="176.60" y="36.10" width="204.60" height="139.50" fill="#fff" stroke="#3c3c3c" stroke-width="2.3"/>
<path d="M188.7 61.20H250.6" stroke="#0000ff" stroke-width="2.2" fill="none" opacity="0.72"/>
<path d="M188.7 105.40H250.6" stroke="#008000" stroke-width="2.2" fill="none" opacity="0.72"/>
<circle cx="219.6" cy="105.40" r="6.1" fill="none" stroke="#008000" stroke-width="1.9" opacity="0.85"/>
<path d="M188.7 150.30H250.6" stroke="#ff0000" stroke-width="2.2" fill="none" opacity="0.62"/>
<rect x="215.0" y="145.60" width="9.0" height="9.4" fill="none" stroke="#ff0000" stroke-width="1.9" opacity="0.8"/>
<text class="leg" x="257.5" y="73.00">F = 51</text>
<text class="leg" x="257.5" y="117.20">F = 351</text>
<text class="leg" x="257.5" y="162.10">F = 651</text>
<rect x="102.50" y="381.50" width="1171.20" height="409.50" fill="none" stroke="#3c3c3c" stroke-width="2.3"/>
<path d="M102.50 791.00V779.20M102.50 381.50V393.30M232.63 791.00V779.20M232.63 381.50V393.30M362.77 791.00V779.20M362.77 381.50V393.30M492.90 791.00V779.20M492.90 381.50V393.30M623.03 791.00V779.20M623.03 381.50V393.30M753.17 791.00V779.20M753.17 381.50V393.30M883.30 791.00V779.20M883.30 381.50V393.30M1013.43 791.00V779.20M1013.43 381.50V393.30M1143.57 791.00V779.20M1143.57 381.50V393.30M1273.70 791.00V779.20M1273.70 381.50V393.30M102.50 381.50H114.30M1273.70 381.50H1261.90M102.50 449.75H114.30M1273.70 449.75H1261.90M102.50 518.00H114.30M1273.70 518.00H1261.90M102.50 586.25H114.30M1273.70 586.25H1261.90M102.50 654.50H114.30M1273.70 654.50H1261.90M102.50 722.75H114.30M1273.70 722.75H1261.90M102.50 791.00H114.30M1273.70 791.00H1261.90" fill="none" stroke="#3c3c3c" stroke-width="2.3"/>
<g clip-path="url(#cb)">
<polyline fill="none" stroke-linejoin="round" stroke-linecap="round" points="201.9,609.0 202.4,610.5 202.9,611.9 203.4,613.1 203.9,614.1 204.4,615.0 204.9,615.5 205.4,615.9 205.9,616.2 206.4,616.5 206.9,616.6 207.4,616.6 207.9,616.3 208.4,616.0 208.9,615.8 209.4,615.6 209.9,616.3 210.4,618.5 210.9,620.8 211.4,623.1 211.9,625.7 212.4,627.9 212.9,629.1 213.4,629.0 213.9,628.9 214.4,628.7 214.9,628.5 215.4,628.4 215.9,628.7 216.4,629.6 216.9,630.6 217.4,631.7 217.9,632.8 218.4,634.2 218.9,635.6 219.4,637.0 219.9,638.1 220.4,638.7 220.9,638.7 221.4,638.4 221.9,637.9 222.4,637.3 222.9,636.8 223.4,636.5 223.9,636.6 224.4,638.0 224.9,639.6 225.4,640.2 225.9,640.6 226.4,640.9 226.9,641.1 227.4,641.4 227.9,641.6 228.4,641.9 228.9,642.2 229.4,642.5 229.9,642.9 230.4,643.2 230.9,643.6 231.4,644.0 231.9,644.4 232.4,644.8 232.9,645.2 233.4,645.6 233.9,646.0 234.4,646.5 234.9,647.0 235.4,647.7 235.9,648.4 236.4,649.2 236.9,650.0 237.4,650.9 237.9,651.7 238.4,652.5 238.9,653.2 239.4,653.8 239.9,654.3 240.4,654.6 240.9,654.8 241.4,654.7 241.9,654.2 242.4,653.2 242.9,652.1 243.4,650.9 243.9,649.7 244.4,648.7 244.9,647.8 245.4,646.8 245.9,645.8 246.4,644.9 246.9,644.2 247.4,643.8 247.9,643.8 248.4,645.1 248.9,647.3 249.4,650.0 249.9,650.9 250.4,650.6 250.9,652.9 251.4,656.4 251.9,659.4 252.4,660.6 252.9,659.6 253.4,658.3 253.9,658.8 254.4,660.8 254.9,663.4 255.4,665.8 255.9,667.5 256.4,667.3 256.9,665.2 257.4,662.3 257.9,660.0 258.4,659.6 258.9,661.7 259.4,664.4 259.9,665.6 260.4,664.3 260.9,662.3 261.4,661.1 261.9,662.1 262.4,665.0 262.9,668.5 263.4,671.3 263.9,672.1 264.4,670.5 264.9,667.5 265.4,664.3 265.9,662.3 266.4,662.5 266.9,664.0 267.4,665.6 267.9,665.7 268.4,664.8 268.9,664.2 269.4,665.2 269.9,668.4 270.4,672.3 270.9,675.9 271.4,677.6 271.9,676.9 272.4,674.5 272.9,671.8 273.4,670.0 273.9,670.2 274.4,672.5 274.9,675.3 275.4,676.8 275.9,675.7 276.4,673.7 276.9,672.9 277.4,674.6 277.9,677.8 278.4,681.4 278.9,683.8 279.4,684.2 279.9,683.0 280.4,681.2 280.9,679.4 281.4,678.5 281.9,679.2 282.4,681.3 282.9,682.7 283.4,681.7 283.9,679.1 284.4,676.6 284.9,675.5 285.4,677.2 285.9,680.3 286.4,683.4 286.9,684.7 287.4,684.2 287.9,683.1 288.4,682.7 288.9,684.0 289.4,686.7 289.9,689.2 290.4,689.9 290.9,690.0 291.4,689.9 291.9,689.7 292.4,689.5 292.9,689.4 293.4,689.2 293.9,688.9 294.4,688.9 294.9,689.0 295.4,689.2 295.9,689.4 296.4,689.8 296.9,690.9 297.4,692.5 297.9,693.9 298.4,694.2 298.9,693.9 299.4,693.6 299.9,693.8 300.4,694.8 300.9,695.7 301.4,695.5 301.9,693.9 302.4,691.8 302.9,690.2 303.4,690.3 303.9,691.8 304.4,693.8 304.9,695.6 305.4,696.3 305.9,696.3 306.4,696.6 306.9,697.4 307.4,699.4 307.9,702.5 308.4,705.5 308.9,707.3 309.4,706.8 309.9,704.3 310.4,701.5 310.9,699.8 311.4,700.5 311.9,702.5 312.4,704.2 312.9,704.6 313.4,703.8 313.9,702.9 314.4,702.8 314.9,704.5 315.4,707.3 315.9,710.0 316.4,711.2 316.9,710.7 317.4,709.5 317.9,708.1 318.4,707.5 318.9,708.1 319.4,709.7 319.9,711.6 320.4,713.0 320.9,712.9 321.4,710.8 321.9,707.7 322.4,704.9 322.9,703.8 323.4,704.6 323.9,705.9 324.4,706.5 324.9,705.6 325.4,704.2 325.9,703.4 326.4,704.4 326.9,706.9 327.4,710.1 327.9,713.1 328.4,715.0 328.9,715.2 329.4,713.9 329.9,712.0 330.4,709.9 330.9,708.2 331.4,707.5 331.9,708.3 332.4,709.8 332.9,710.3 333.4,709.6 333.9,708.8 334.4,708.5 334.9,709.5 335.4,711.4 335.9,713.6 336.4,715.2 336.9,715.5 337.4,714.4 337.9,712.6 338.4,710.8 338.9,709.5 339.4,709.5 339.9,710.7 340.4,712.2 340.9,713.0 341.4,711.1 341.9,707.3 342.4,704.6 342.9,705.1 343.4,707.6 343.9,710.6 344.4,713.0 344.9,713.8 345.4,713.2 345.9,712.0 346.4,710.9 346.9,710.4 347.4,710.7 347.9,711.4 348.4,712.1 348.9,712.1 349.4,711.1 349.9,709.8 350.4,708.6 350.9,708.3 351.4,709.8 351.9,712.3 352.4,714.3 352.9,714.7 353.4,713.6 353.9,712.1 354.4,711.3 354.9,712.0 355.4,712.9 355.9,713.0 356.4,712.3 356.9,711.6 357.4,711.7 357.9,711.8 358.4,711.6 358.9,711.0 359.4,710.2 359.9,710.7 360.4,711.0 360.9,711.0 361.4,710.6 361.9,710.3 362.4,710.6 362.9,711.1 363.4,710.8 363.9,709.6 364.4,708.6 364.9,709.1 365.4,710.3 365.9,711.2 366.4,710.6 366.9,708.3 367.4,705.6 367.9,703.8 368.4,703.8 368.9,704.7 369.4,705.8 369.9,706.6 370.4,706.4 370.9,705.5 371.4,704.5 371.9,703.9 372.4,704.2 372.9,705.1 373.4,706.0 373.9,706.4 374.4,705.5 374.9,702.9 375.4,699.7 375.9,697.0 376.4,696.3 376.9,698.7 377.4,702.3 377.9,704.1 378.4,703.2 378.9,701.5 379.4,700.1 379.9,699.9 380.4,701.0 380.9,702.7 381.4,704.4 381.9,705.4 382.4,705.0 382.9,703.3 383.4,701.0 383.9,699.0 384.4,697.9 384.9,698.0 385.4,698.8 385.9,699.4 386.4,698.9 386.9,697.4 387.4,696.4 387.9,697.1 388.4,698.7 388.9,700.8 389.4,702.7 389.9,704.0 390.4,703.9 390.9,702.0 391.4,699.0 391.9,695.9 392.4,693.4 392.9,692.4 393.4,693.2 393.9,694.7 394.4,695.7 394.9,695.2 395.4,694.0 395.9,693.3 396.4,694.6 396.9,697.4 397.4,700.7 397.9,703.0 398.4,703.3 398.9,702.1 399.4,700.4 399.9,699.0 400.4,698.6 400.9,699.5 401.4,701.0 401.9,702.6 402.4,703.4 402.9,702.5 403.4,700.1 403.9,697.6 404.4,696.2 404.9,696.6 405.4,697.9 405.9,699.0 406.4,699.0 406.9,697.7 407.4,696.1 407.9,695.8 408.4,697.8 408.9,701.0 409.4,704.0 409.9,705.0 410.4,703.8 410.9,701.2 411.4,698.6 411.9,697.1 412.4,696.8 412.9,697.0 413.4,697.5 413.9,697.4 414.4,696.2 414.9,694.7 415.4,693.8 415.9,694.3 416.4,696.4 416.9,699.1 417.4,701.4 417.9,702.2 418.4,702.0 418.9,701.7 419.4,702.1 419.9,703.1 420.4,704.1 420.9,704.4 421.4,703.8 421.9,702.8 422.4,702.4 422.9,702.8 423.4,703.3 423.9,703.8 424.4,704.4 424.9,705.2 425.4,706.2 425.9,707.1 426.4,708.0 426.9,709.0 427.4,709.9 427.9,710.8 428.4,711.5 428.9,711.5 429.4,709.9 429.9,708.0 430.4,707.3 430.9,708.5 431.4,710.4 431.9,711.7 432.4,711.3 432.9,709.0 433.4,706.5 433.9,705.7 434.4,707.4 434.9,710.7 435.4,714.1 435.9,715.9 436.4,715.4 436.9,714.0 437.4,714.0 437.9,715.7 438.4,718.2 438.9,720.8 439.4,722.8 439.9,723.3 440.4,721.6 440.9,718.9 441.4,716.4 441.9,715.3 442.4,716.9 442.9,719.7 443.4,721.5 443.6,717.5 443.7,718.2 443.9,718.8 444.0,719.4 444.1,720.0 444.3,720.7 444.4,721.6 444.6,722.6 444.7,723.2 444.8,723.7 445.0,724.1 445.1,724.5 445.2,724.8 445.4,725.1 445.5,725.4 445.7,725.7 445.8,725.9 445.9,726.1 446.1,726.2 446.2,726.3 446.4,726.4 446.5,726.4 446.6,726.4 446.8,726.5 446.9,726.5 447.1,726.6 447.2,726.7 447.3,726.9 447.5,727.2 447.6,727.6 447.8,728.0 447.9,728.4 448.0,728.8 448.2,729.2 448.3,729.4 448.5,729.5 448.6,729.5 448.7,729.4 448.9,729.1 449.0,728.8 449.2,728.5 449.3,728.2 449.4,728.0 449.6,727.9 449.7,727.9 449.8,728.1 450.0,728.4 450.1,728.9 450.3,729.5 450.4,730.1 450.5,730.8 450.7,731.4 450.8,732.1 451.0,732.6 451.1,733.1 451.2,733.4 451.4,733.6 451.5,733.6 451.7,733.3 451.8,732.8 451.9,732.2 452.1,731.4 452.2,730.6 452.4,729.7 452.5,728.8 452.6,728.0 452.8,727.3 452.9,726.7 453.1,726.3 453.2,726.0 453.3,726.0 453.5,726.2 453.6,726.5 453.7,726.8 453.9,727.3 454.0,727.8 454.2,728.4 454.3,729.0 454.4,729.6 454.6,730.2 454.7,730.8 454.9,731.3 455.0,731.8 455.1,732.1 455.3,732.4 455.4,732.6 455.6,732.6 455.7,732.5 455.8,732.4 456.0,732.3 456.1,732.1 456.3,731.9 456.4,731.7 456.5,731.5 456.7,731.3 456.8,731.2 457.0,731.1 457.1,731.1 457.2,731.1 457.4,731.3 457.5,731.6 457.6,731.9 457.8,732.4 457.9,732.8 458.1,733.4 458.2,733.9 458.3,734.4 458.5,734.9 458.6,735.4 458.8,735.9 458.9,736.2 459.0,736.5 459.2,736.7 459.3,736.8 459.5,736.7 459.6,736.4 459.7,735.9 459.9,735.2 460.0,734.3 460.2,733.3 460.3,732.3 460.4,731.2 460.6,730.2 460.7,729.1 460.9,728.2 461.0,727.3 461.1,726.6 461.3,726.0 461.4,725.7 461.6,725.5 461.7,725.8 461.8,726.5 462.0,727.5 462.1,728.8 462.2,730.2 462.4,731.7 462.5,733.3 462.7,734.7 462.8,735.9 462.9,736.9 463.1,737.6 463.2,737.8 463.4,737.7 463.5,737.5 463.6,737.2 463.8,736.7 463.9,736.3 464.1,735.8 464.2,735.2 464.3,734.8 464.5,734.3 464.6,734.0 464.8,733.8 464.9,733.7 465.0,733.8 465.2,734.0 465.3,734.4 465.5,734.9 465.6,735.5 465.7,736.2 465.9,736.9 466.0,737.7 466.1,738.5 466.3,739.3 466.4,740.1 466.6,740.8 466.7,741.5 466.8,742.1 467.0,742.6 467.1,743.0 467.3,743.2 467.4,743.3 467.5,743.2 467.7,743.0 467.8,742.6 468.0,742.1 468.1,741.5 468.2,740.8 468.4,740.1 468.5,739.3 468.7,738.6 468.8,737.9 468.9,737.2 469.1,736.5 469.2,736.0 469.4,735.5 469.5,735.2 469.6,735.0 469.8,735.0 469.9,735.1 470.1,735.3 470.2,735.6 470.3,735.9 470.5,736.3 470.6,736.7 470.7,737.1 470.9,737.4 471.0,737.7 471.2,738.0 471.3,738.1 471.4,738.1 471.6,737.9 471.7,737.6 471.9,737.1 472.0,736.6 472.1,736.1 472.3,735.6 472.4,735.2 472.6,735.0 472.7,735.0 472.8,735.1 473.0,735.4 473.1,735.8 473.3,736.4 473.4,737.0 473.5,737.7 473.7,738.5 473.8,739.3 474.0,740.2 474.1,741.0 474.2,741.9 474.4,742.7 474.5,743.5 474.6,744.3 474.8,745.0 474.9,745.6 475.1,746.0 475.2,746.4 475.3,746.6 475.5,746.7 475.6,746.6 475.8,746.3 475.9,745.8 476.0,745.1 476.2,744.3 476.3,743.3 476.5,742.3 476.6,741.2 476.7,740.1 476.9,739.0 477.0,737.8 477.2,736.8 477.3,735.7 477.4,734.8 477.6,734.0 477.7,733.3 477.9,732.8 478.0,732.4 478.1,732.3 478.3,732.4 478.4,732.7 478.5,733.1 478.7,733.7 478.8,734.3 479.0,734.9 479.1,735.5 479.2,736.1 479.4,736.6 479.5,737.1 479.7,737.3 479.8,737.4 479.9,737.4 480.1,737.1 480.2,736.8 480.4,736.4 480.5,736.0 480.6,735.6 480.8,735.2 480.9,734.9 481.1,734.7 481.2,734.7 481.3,734.9 481.5,735.4 481.6,736.0 481.8,736.9 481.9,738.0 482.0,739.1 482.2,740.4 482.3,741.6 482.5,742.9 482.6,744.2 482.7,745.3 482.9,746.4 483.0,747.3 483.1,748.1 483.3,748.6 483.4,748.9 483.6,748.9 483.7,748.7 483.8,748.4 484.0,748.0 484.1,747.5 484.3,746.9 484.4,746.3 484.5,745.7 484.7,745.1 484.8,744.5 485.0,744.0 485.1,743.5 485.2,743.1 485.4,742.8 485.5,742.7 485.7,742.7 485.8,742.9 485.9,743.1 486.1,743.6 486.2,744.0 486.4,744.6 486.5,745.2 486.6,745.8 486.8,746.5 486.9,747.1 487.0,747.6 487.2,748.2 487.3,748.6 487.5,748.9 487.6,749.2 487.7,749.2 487.9,749.1 488.0,748.7 488.2,748.2 488.3,747.4 488.4,746.6 488.6,745.6 488.7,744.6 488.9,743.6 489.0,742.7 489.1,741.8 489.3,740.9 489.4,740.3 489.6,739.8 489.7,739.5 489.8,739.5 490.0,739.6 490.1,739.9 490.3,740.2 490.4,740.6 490.5,741.1 490.7,741.6 490.8,742.1 490.9,742.5 491.1,742.9 491.2,743.1 491.4,743.3 491.5,743.3 491.6,743.1 491.8,742.7 491.9,742.2 492.1,741.6 492.2,741.0 492.3,740.3 492.5,739.7 492.6,739.1 492.8,738.6 492.9,738.2 493.0,738.1 493.2,738.2 493.3,738.6 493.5,739.2 493.6,740.1 493.7,741.1 493.9,742.2 494.0,743.4 494.2,744.6 494.3,745.8 494.4,746.9 494.6,747.9 494.7,748.8 494.9,749.4 495.0,749.8 495.1,749.9 495.3,749.7 495.4,749.3 495.5,748.7 495.7,747.9 495.8,747.0 496.0,746.0 496.1,744.9 496.2,743.8 496.4,742.7 496.5,741.7 496.7,740.7 496.8,739.8 496.9,739.1 497.1,738.6 497.2,738.3 497.4,738.1 497.5,737.9 497.6,737.7 497.8,737.6 497.9,737.6 498.1,737.6 498.2,737.8 498.3,737.9 498.5,738.1 498.6,738.2 498.8,738.3 498.9,738.2 499.0,738.1 499.2,737.7 499.3,737.3 499.4,736.8 499.6,736.3 499.7,735.6 499.9,735.0 500.0,734.4 500.1,733.8 500.3,733.2 500.4,732.7 500.6,732.3 500.7,732.0 500.8,731.9 501.0,731.9 501.1,732.2 501.3,732.6 501.4,733.2 501.5,733.9 501.7,734.8 501.8,735.7 502.0,736.6 502.1,737.5 502.2,738.5 502.4,739.3 502.5,740.1 502.7,740.7 502.8,741.2 502.9,741.5 503.1,741.5 503.2,741.5 503.3,741.3 503.5,741.1 503.6,740.9 503.8,740.6 503.9,740.4 504.0,740.1 504.2,740.0 504.3,739.9 504.5,739.9 504.6,739.9 504.7,740.1 504.9,740.3 505.0,740.6 505.2,740.9 505.3,741.2 505.4,741.5 505.6,741.7 505.7,741.9 505.9,742.0 506.0,742.1 506.1,742.0 506.3,741.7 506.4,741.4 506.6,741.0 506.7,740.5 506.8,740.0 507.0,739.5 507.1,739.0 507.3,738.6 507.4,738.2 507.5,737.9 507.7,737.7 507.8,737.7 507.9,737.7 508.1,737.7 508.2,737.7 508.4,737.7 508.5,737.7 508.6,737.8 508.8,737.8 508.9,737.8 509.1,737.9 509.2,737.9 509.3,738.0 509.5,738.0 509.6,738.1 509.8,738.2 509.9,738.4 510.0,738.5 510.2,738.7 510.3,738.8 510.5,739.0 510.6,739.2 510.7,739.4 510.9,739.6 511.0,739.8 511.2,740.0 511.3,740.2 511.4,740.4 511.6,740.5 511.7,740.7 511.8,740.8 512.0,741.0 512.1,741.2 512.3,741.3 512.4,741.5 512.5,741.7 512.7,741.9 512.8,742.0 513.0,742.2 513.1,742.3 513.2,742.4 513.4,742.5 513.5,742.6 513.7,742.7 513.8,742.7 513.9,742.7 514.1,742.5 514.2,742.0 514.4,741.3 514.5,740.5 514.6,739.6 514.8,738.7 514.9,737.7 515.1,736.8 515.2,736.0 515.3,735.3 515.5,734.8 515.6,734.5 515.7,734.5 515.9,734.6 516.0,734.9 516.2,735.3 516.3,735.8 516.4,736.3 516.6,736.8 516.7,737.3 516.9,737.7 517.0,738.1 517.1,738.3 517.3,738.3 517.4,738.1 517.6,737.6 517.7,736.9 517.8,736.0 518.0,734.9 518.1,733.8 518.3,732.6 518.4,731.4 518.5,730.3 518.7,729.3 518.8,728.5 519.0,727.8 519.1,727.4 519.2,727.3 519.4,727.6 519.5,728.0 519.7,728.7 519.8,729.6 519.9,730.6 520.1,731.7 520.2,732.9 520.3,734.0 520.5,735.1 520.6,736.1 520.8,736.9 520.9,737.6 521.0,738.0 521.2,738.2 521.3,738.0 521.5,737.6 521.6,737.1 521.7,736.4 521.9,735.6 522.0,734.9 522.2,734.2 522.3,733.7 522.4,733.4 522.6,733.3 522.7,733.4 522.9,733.7 523.0,734.1 523.1,734.6 523.3,735.3 523.4,736.0 523.6,736.7 523.7,737.5 523.8,738.3 524.0,739.1 524.1,739.8 524.2,740.5 524.4,741.1 524.5,741.7 524.7,742.0 524.8,742.3 524.9,742.4 525.1,742.2 525.2,741.8 525.4,741.2 525.5,740.3 525.6,739.3 525.8,738.2 525.9,736.9 526.1,735.7 526.2,734.4 526.3,733.1 526.5,731.9 526.6,730.8 526.8,729.9 526.9,729.1 527.0,728.5 527.2,728.2 527.3,728.2 527.5,728.5 527.6,729.0 527.7,729.7 527.9,730.5 528.0,731.4 528.2,732.2 528.3,733.0 528.4,733.6 528.6,734.0 528.7,734.1 528.8,733.9 529.0,733.4 529.1,732.8 529.3,731.9 529.4,731.0 529.5,730.0 529.7,729.0 529.8,728.0 530.0,727.1 530.1,726.4 530.2,725.8 530.4,725.5 530.5,725.5 530.7,725.7 530.8,726.2 530.9,726.8 531.1,727.7 531.2,728.6 531.4,729.6 531.5,730.7 531.6,731.8 531.8,732.8 531.9,733.8 532.1,734.8 532.2,735.5 532.3,736.2 532.5,736.6 532.6,736.8 532.7,736.7 532.9,736.3 533.0,735.6 533.2,734.7 533.3,733.7 533.4,732.4 533.6,731.1 533.7,729.7 533.9,728.2 534.0,726.8 534.1,725.3 534.3,724.0 534.4,722.7 534.6,721.6 534.7,720.7 534.8,720.0 535.0,719.5 535.1,719.4 535.3,719.4 535.4,719.6 535.5,719.9 535.7,720.2 535.8,720.6 536.0,721.0 536.1,721.4 536.2,721.8 536.4,722.1 536.5,722.3 536.6,722.4 536.8,722.4 536.9,722.1 537.1,721.6 537.2,721.0 537.3,720.2 537.5,719.5 537.6,718.7 537.8,718.0 537.9,717.5 538.0,717.1 538.2,717.0 538.3,717.1 538.5,717.4 538.6,717.9 538.7,718.5 538.9,719.3 539.0,720.0 539.2,720.8 539.3,721.6 539.4,722.4 539.6,723.0 539.7,723.9 539.9,724.8 540.0,725.7 540.1,726.7 540.3,727.5 540.4,728.2 540.6,728.8 540.7,729.1 540.8,729.1 541.0,728.8 541.1,728.3 541.2,727.5 541.4,726.6 541.5,725.6 541.7,724.7 541.8,723.8 541.9,723.2 542.1,722.8 542.2,722.6 542.4,722.4 542.5,722.3 542.6,722.1 542.8,722.0 542.9,721.9 543.1,721.8 543.2,721.7 543.3,721.7 543.5,721.6 543.6,721.6 543.8,721.6 543.9,721.6 544.0,721.8 544.2,721.9 544.3,722.1 544.5,722.2 544.6,722.4 544.7,722.5 544.9,722.6 545.0,722.6 545.1,722.5 545.3,722.3 545.4,722.0 545.6,721.7 545.7,721.2 545.8,720.7 546.0,720.2 546.1,719.6 546.3,718.9 546.4,718.2 546.5,717.5 546.6,717.0 547.1,716.7 547.6,714.5 548.1,713.6 548.6,714.0 549.1,714.7 549.6,714.8 550.1,713.1 550.6,710.2 551.1,707.6 551.6,706.7 552.1,707.7 552.6,709.8 553.1,711.4 553.6,711.5 554.1,709.9 554.6,708.1 555.1,707.7 555.6,708.5 556.1,709.7 556.6,710.9 557.1,711.4 557.6,710.4 558.1,707.8 558.6,704.7 559.1,702.1 559.6,700.9 560.1,701.7 560.6,703.0 561.1,703.1 561.6,701.3 562.1,698.8 562.6,697.0 563.1,697.0 563.6,698.4 564.1,700.2 564.6,701.5 565.1,701.3 565.6,699.1 566.1,695.9 566.6,692.6 567.1,690.2 567.6,689.6 568.1,689.8 568.6,690.2 569.1,689.3 569.6,687.7 570.1,686.4 570.6,686.3 571.1,687.8 571.6,689.8 572.1,691.5 572.6,691.9 573.1,690.4 573.6,687.8 574.1,684.9 574.6,682.7 575.1,682.0 575.6,682.7 576.1,683.7 576.6,683.8 577.1,682.2 577.6,679.8 578.1,678.3 578.6,678.6 579.1,680.0 579.6,681.5 580.1,682.2 580.6,681.5 581.1,679.7 581.6,677.5 582.1,675.4 582.6,673.8 583.1,673.4 583.6,673.8 584.1,673.8 584.6,672.2 585.1,669.5 585.6,666.9 586.1,665.3 586.6,665.4 587.1,666.5 587.6,667.6 588.1,667.4 588.6,666.1 589.1,664.4 589.6,663.2 590.1,663.1 590.6,663.8 591.1,664.4 591.6,663.9 592.1,662.9 592.6,661.9 593.1,660.8 593.6,659.7 594.1,658.6 594.6,657.5 595.1,656.4 595.6,655.3 596.1,654.4 596.6,653.6 597.1,652.7 597.6,651.9 598.1,651.6 598.6,651.6 599.1,651.4 599.6,650.6 600.1,649.4 600.6,648.3 601.1,647.4 601.6,647.0 602.1,646.5 602.6,645.5 603.1,643.6 603.6,641.4 604.1,639.6 604.6,638.7 605.1,638.5 605.6,638.7 606.1,638.7 606.6,638.1 607.1,637.2 607.6,636.3 608.1,635.8 608.6,635.9 609.1,636.6 609.6,637.2 610.1,637.2 610.6,636.0 611.1,633.7 611.6,631.3 612.1,629.5 612.6,629.0 613.1,629.0 613.6,629.0 614.1,628.2 614.6,626.9 615.1,625.5 615.6,624.5 616.1,624.5 616.6,624.9 617.1,625.3 617.6,625.0 618.1,623.8 618.6,622.3 619.1,620.7 619.6,619.5 620.1,618.9 620.6,618.8 621.1,618.8 621.6,618.6 622.1,617.6 622.6,615.8 623.1,613.5 623.6,611.3 624.1,609.9 624.6,609.4 625.1,609.2 625.6,608.6 626.1,607.3 626.6,605.8 627.1,604.7 627.6,604.3 628.1,604.6 628.6,605.2 629.1,605.7 629.6,605.7 630.1,604.9 630.6,603.6 631.1,601.9 631.6,600.1 632.1,598.5 632.6,597.4 633.1,597.0 633.6,596.8 634.1,596.2 634.6,595.1 635.1,593.9 635.6,593.0 636.1,592.6 636.6,592.7 637.1,592.9 637.6,592.8 638.1,592.1 638.6,590.9 639.1,589.3 639.6,587.7 640.1,586.4 640.6,585.6 641.1,585.4 641.6,585.3 642.1,584.8 642.6,583.2 643.1,580.9 643.6,579.0 644.1,578.5 644.6,578.7 645.1,579.3 645.6,579.6 646.1,579.1 646.6,578.1 647.1,576.9 647.6,575.7 648.1,574.8 648.6,574.2 649.1,573.8 649.6,573.3 650.1,572.6 650.6,571.5 651.1,570.2 651.6,569.0 652.1,568.2 652.6,568.1 653.1,568.4 653.6,568.6 654.1,568.0 654.6,566.8 655.1,565.5 655.6,564.5 656.1,564.1 656.6,563.8 657.1,563.2 657.6,562.2 658.1,561.3 658.6,560.6 659.1,560.0 659.6,559.2 660.1,558.3 660.6,557.3 661.1,556.9 661.6,556.4 662.1,555.7 662.6,554.9 663.1,554.1 663.6,553.6 664.1,553.1 664.6,552.4 665.1,551.2 665.6,550.2 666.1,549.8 666.6,549.6 667.1,549.3 667.6,548.5 668.1,546.9 668.6,545.3 669.1,544.0 669.6,543.4 670.1,543.1 670.6,542.9 671.1,542.6 671.6,541.9 672.1,540.9 672.6,539.9 673.1,539.1 673.6,538.6 674.1,538.3 674.6,538.1 675.1,537.6 675.6,536.7 676.1,535.1 676.6,533.3 677.1,531.7 677.6,530.9 678.1,531.2 678.6,531.9 679.1,532.0 679.6,531.1 680.1,529.9 680.6,528.8 681.1,528.1 681.6,527.9 682.1,528.0 682.6,528.0 683.1,527.7 683.6,527.0 684.1,525.8 684.6,524.4 685.1,523.1 685.6,522.1 686.1,521.6 686.6,521.3 687.1,520.9 687.6,520.2 688.1,519.0 688.6,518.2 689.1,517.8 689.6,517.8 690.1,518.0 690.6,518.0 691.1,517.9 691.6,517.3 692.1,516.0 692.6,514.4 693.1,512.8 693.6,511.3 694.1,510.4 694.6,510.1 695.1,510.1 695.6,509.8 696.1,509.1 696.6,508.1 697.1,507.3 697.6,507.2 698.1,507.5 698.6,508.1 699.1,508.3 699.6,507.8 700.1,506.8 700.6,505.6 701.1,504.6 701.6,503.9 702.1,503.6 702.6,503.5 703.1,503.4 703.6,503.1 704.1,502.2 704.6,500.9 705.1,499.4 705.6,498.4 706.1,497.9 706.6,497.8 707.1,497.6 707.6,497.0 708.1,495.9 708.6,494.8 709.1,494.1 709.6,494.2 710.1,494.7 710.6,495.1 711.1,494.9 711.6,493.9 712.1,492.4 712.6,491.0 713.1,489.9 713.6,489.2 714.1,488.7 714.6,488.3 715.1,487.7 715.6,486.7 716.1,485.6 716.6,484.7 717.1,484.3 717.6,484.4 718.1,484.8 718.6,485.0 719.1,484.6 719.6,484.0 720.1,483.3 720.6,482.8 721.1,482.6 721.6,482.3 722.1,481.9 722.6,481.1 723.1,480.2 723.6,479.5 724.1,479.0 724.6,478.6 725.1,478.2 725.6,477.8 726.1,477.5 726.6,477.2 727.1,477.0 727.6,476.7 728.1,476.4 728.6,476.2 729.1,475.9 729.6,475.6 730.1,475.0 730.6,473.9 731.1,472.7 731.6,471.9 732.1,471.7 732.6,471.8 733.1,471.7 733.6,470.9 734.1,469.6 734.6,468.3 735.1,467.4 735.6,467.4 736.1,468.0 736.6,468.6 737.1,468.6 737.6,467.9 738.1,466.9 738.6,466.3 739.1,466.4 739.6,466.7 740.1,467.0 740.6,467.1 741.1,466.8 741.6,465.7 742.1,464.2 742.6,462.9 743.1,462.0 743.6,462.0 744.1,462.4 744.6,462.5 745.1,461.8 745.6,460.6 746.1,459.6 746.6,459.2 747.1,459.6 747.6,460.2 748.1,460.8 748.6,460.8 749.1,460.0 749.6,458.5 750.1,457.0 750.6,455.7 751.1,455.1 751.6,455.0 752.1,455.1 752.6,454.9 753.1,454.1 753.6,453.4 754.1,453.0 754.6,453.5 755.1,454.3 755.6,455.1 756.1,455.4 756.6,455.0 757.1,453.8 757.6,452.5 758.1,451.3 758.6,450.7 759.1,450.9 759.6,451.3 760.1,451.6 760.6,451.0 761.1,449.9 761.6,449.0 762.1,448.9 762.6,449.5 763.1,450.2 763.6,450.7 764.1,450.6 764.6,449.9 765.1,448.9 765.6,447.9 766.1,447.0 766.6,446.7 767.1,446.9 767.6,447.1 768.1,446.5 768.6,445.3 769.1,444.0 769.6,443.1 770.1,443.0 770.6,443.5 771.1,444.2 771.6,444.4 772.1,444.0 772.6,443.2 773.1,442.5 773.6,442.4 774.1,442.9 774.6,443.3 775.1,443.3 775.6,443.0 776.1,442.6 776.6,442.1 777.1,441.6 777.6,441.2 778.1,440.7 778.6,440.3 779.1,439.8 779.6,439.5 780.1,439.2 780.6,438.9 781.1,438.6 781.6,438.5 782.1,438.6 782.6,438.8 783.1,438.6 783.6,438.2 784.1,437.7 784.6,437.3 785.1,437.2 785.6,437.2 786.1,436.9 786.6,436.1 787.1,435.1 787.6,434.1 788.1,433.6 788.6,433.7 789.1,434.0 789.6,434.3 790.1,434.3 790.6,434.0 791.1,433.7 791.6,433.6 792.1,433.8 792.6,434.4 793.1,435.2 793.6,435.6 794.1,435.3 794.6,434.3 795.1,433.0 795.6,432.0 796.1,431.8 796.6,432.0 797.1,432.4 797.6,432.4 798.1,431.9 798.6,431.3 799.1,430.9 799.6,431.0 800.1,431.6 800.6,432.3 801.1,432.6 801.6,432.3 802.1,431.6 802.6,430.9 803.1,430.4 803.6,430.2 804.1,430.4 804.6,430.8 805.1,431.1 805.6,431.1 806.1,430.3 806.6,429.1 807.1,427.8 807.6,427.0 808.1,427.0 808.6,427.2 809.1,427.3 809.6,426.9 810.1,426.3 810.6,425.7 811.1,425.7 811.6,426.2 812.1,427.1 812.6,427.9 813.1,428.5 813.6,428.6 814.1,428.1 814.6,427.3 815.1,426.4 815.6,425.7 816.1,425.1 816.6,425.1 817.1,425.5 817.6,425.6 818.1,425.3 818.6,424.9 819.1,424.6 819.6,424.6 820.1,425.1 820.6,425.7 821.1,426.2 821.6,426.3 822.1,426.0 822.6,425.3 823.1,424.5 823.6,423.9 824.1,423.7 824.6,423.9 825.1,424.3 825.6,424.6 826.1,424.1 826.6,422.8 827.1,421.6 827.6,421.4 828.1,422.0 828.6,422.9 829.1,423.8 829.6,424.1 830.1,423.9 830.6,423.5 831.1,423.0 831.6,422.7 832.1,422.7 832.6,422.8 833.1,423.0 833.6,423.0 834.1,422.7 834.6,422.2 835.1,421.7 835.6,421.5 836.1,421.8 836.6,422.5 837.1,423.3 837.6,423.5 838.1,423.2 838.6,422.7 839.1,422.3 839.6,422.3 840.1,422.6 840.6,422.8 841.1,422.5 841.6,422.2 842.1,422.2 842.6,422.2 843.1,422.1 843.6,421.9 844.1,421.7 844.6,421.7 845.1,421.8 845.6,421.8 846.1,421.7 846.6,421.6 847.1,421.6 847.6,421.8 848.1,421.8 848.6,421.4 849.1,421.0 849.6,421.0 850.1,421.4 850.6,421.8 851.1,421.8 851.6,421.1 852.1,420.1 852.6,419.4 853.1,419.2 853.6,419.5 854.1,419.9 854.6,420.2 855.1,420.3 855.6,420.0 856.1,419.7 856.6,419.4 857.1,419.5 857.6,419.8 858.1,420.1 858.6,420.4 859.1,420.2 859.6,419.4 860.1,418.3 860.6,417.3 861.1,416.8 861.6,417.5 862.1,418.7 862.6,419.7 863.1,419.5 863.6,419.0 864.1,418.5 864.6,418.3 865.1,418.6 865.6,419.2 866.1,419.9 866.6,420.3 867.1,420.3 867.6,419.9 868.1,419.1 868.6,418.4 869.1,417.9 869.6,417.9 870.1,418.1 870.6,418.4 871.1,418.4 871.6,417.9 872.1,417.5 872.6,417.6 873.1,418.2 873.6,418.9 874.1,419.7 874.6,420.2 875.1,420.3 875.6,419.9 876.1,418.9 876.6,417.8 877.1,416.8 877.6,416.3 878.1,416.5 878.6,417.0 879.1,417.5 879.6,417.4 880.1,417.0 880.6,416.7 881.1,417.0 881.6,417.9 882.1,419.1 882.6,420.1 883.1,420.4 883.6,420.1 884.1,419.5 884.6,418.9 885.1,418.7 885.6,418.9 886.1,419.4 886.6,420.0 887.1,420.4 887.6,420.2 888.1,419.5 888.6,418.5 889.1,417.8 889.6,417.8 890.1,418.2 890.6,418.7 891.1,418.8 891.6,418.4 892.1,417.8 892.6,417.5 893.1,418.0 893.6,419.0 894.1,420.2 894.6,420.8 895.1,420.5 895.6,419.6 896.1,418.6 896.6,417.8 897.1,417.6 897.6,417.6 898.1,417.7 898.6,417.7 899.1,417.3 899.6,416.7 900.1,416.3 900.6,416.2 901.1,416.8 901.6,417.7 902.1,418.6 902.6,419.0 903.1,418.8 903.6,418.6 904.1,418.6 904.6,418.9 905.1,419.2 905.6,419.3 906.1,419.1 906.6,418.7 907.1,418.3 907.6,418.3 908.1,418.4 908.6,418.5 909.1,418.6 909.6,418.8 910.1,419.0 910.6,419.3 911.1,419.5 911.6,419.8 912.1,420.0 912.6,420.2 913.1,420.4 913.6,420.4 914.1,419.9 914.6,419.0 915.1,418.5 915.6,418.6 916.1,419.2 916.6,419.7 917.1,419.6 917.6,418.8 918.1,417.7 918.6,417.0 919.1,417.3 919.6,418.3 920.1,419.5 920.6,420.3 921.1,420.2 921.6,419.5 922.1,419.2 922.6,419.6 923.1,420.4 923.6,421.3 924.1,422.0 924.6,422.2 925.1,421.7 925.6,420.6 926.1,419.5 926.6,418.8 927.1,419.0 927.6,419.9 928.1,420.6 928.6,420.5 929.1,419.7 929.6,418.9 930.1,418.7 930.6,419.4 931.1,420.5 931.6,421.6 932.1,422.3 932.6,422.1 933.1,421.1 933.6,419.7 934.1,418.6 934.6,418.1 935.1,418.4 935.6,418.9 936.1,419.3 936.6,418.9 937.1,418.4 937.6,418.3 938.1,419.0 938.6,420.3 939.1,421.7 939.6,422.7 940.1,422.8 940.6,422.1 941.1,421.0 941.6,419.9 942.1,419.4 942.6,419.8 943.1,420.8 943.6,421.6 944.1,421.6 944.6,420.8 945.1,420.0 945.6,420.1 946.1,421.0 946.6,422.2 947.1,423.3 947.6,423.8 948.1,423.5 948.6,422.8 949.1,422.0 949.6,421.3 950.1,421.1 950.6,421.6 951.1,422.3 951.6,422.3 952.1,421.5 952.6,420.3 953.1,419.4 953.6,419.4 954.1,420.2 954.6,421.4 955.1,422.2 955.6,422.2 956.1,421.8 956.6,421.3 957.1,421.3 957.6,422.0 958.1,423.0 958.6,423.5 959.1,423.5 959.6,423.4 960.1,423.2 960.6,423.0 961.1,422.9 961.6,422.7 962.1,422.5 962.6,422.3 963.1,422.2 963.6,422.2 964.1,422.1 964.6,422.1 965.1,422.3 965.6,422.7 966.1,423.2 966.6,423.5 967.1,423.4 967.6,423.1 968.1,422.9 968.6,423.1 969.1,423.4 969.6,423.5 970.1,423.1 970.6,422.2 971.1,421.3 971.6,420.9 972.1,421.1 972.6,421.7 973.1,422.4 973.6,422.9 974.1,422.9 974.6,422.8 975.1,423.0 975.6,423.3 976.1,424.3 976.6,425.5 977.1,426.5 977.6,426.7 978.1,426.0 978.6,424.8 979.1,423.8 979.6,423.5 980.1,424.0 980.6,424.8 981.1,425.2 981.6,425.1 982.1,424.7 982.6,424.4 983.1,424.6 983.6,425.5 984.1,426.6 984.6,427.5 985.1,427.6 985.6,427.2 986.1,426.6 986.6,426.2 987.1,426.1 987.6,426.6 988.1,427.3 988.6,428.0 989.1,428.4 989.6,428.0 990.1,426.9 990.6,425.7 991.1,424.9 991.6,424.8 992.1,425.4 992.6,425.9 993.1,425.9 993.6,425.4 994.1,424.9 994.6,425.0 995.1,425.7 995.6,427.0 996.1,428.3 996.6,429.4 997.1,430.0 997.6,429.8 998.1,429.3 998.6,428.5 999.1,427.8 999.6,427.4 1000.1,427.5 1000.6,428.1 1001.1,428.7 1001.6,428.7 1002.1,428.5 1002.6,428.3 1003.1,428.5 1003.6,429.3 1004.1,430.3 1004.6,431.2 1005.1,431.8 1005.6,431.8 1006.1,431.3 1006.6,430.7 1007.1,430.1 1007.6,430.0 1008.1,430.4 1008.6,431.2 1009.1,431.9 1009.6,431.9 1010.1,430.8 1010.6,429.5 1011.1,429.2 1011.6,430.0 1012.1,431.4 1012.6,432.7 1013.1,433.7 1013.6,433.8 1014.1,433.7 1014.6,433.4 1015.1,433.2 1015.6,433.4 1016.1,433.8 1016.6,434.3 1017.1,434.7 1017.6,434.7 1018.1,434.4 1018.6,434.1 1019.1,434.0 1019.6,434.4 1020.1,435.5 1020.6,436.8 1021.1,437.6 1021.6,437.7 1022.1,437.3 1022.6,437.0 1023.1,437.2 1023.6,437.9 1024.1,438.4 1024.6,438.5 1025.1,438.4 1025.6,438.6 1026.1,438.9 1026.6,439.2 1027.1,439.3 1027.6,439.3 1028.1,439.5 1028.6,439.9 1029.1,440.3 1029.6,440.4 1030.1,440.6 1030.6,440.8 1031.1,441.3 1031.6,441.7 1032.1,441.7 1032.6,441.4 1033.1,441.6 1033.6,442.3 1034.1,443.1 1034.6,443.6 1035.1,443.3 1035.6,442.4 1036.1,441.7 1036.6,441.6 1037.1,442.1 1037.6,442.9 1038.1,443.7 1038.6,444.1 1039.1,444.2 1039.6,444.1 1040.1,444.1 1040.6,444.3 1041.1,444.9 1041.6,445.6 1042.1,446.3 1042.6,446.6 1043.1,446.2 1043.6,445.2 1044.1,444.2 1044.6,443.6 1045.1,444.3 1045.6,446.1 1046.1,447.8 1046.6,448.3 1047.1,448.0 1047.6,447.7 1048.1,447.6 1048.6,448.1 1049.1,449.1 1049.6,450.3 1050.1,451.3 1050.6,451.8 1051.1,451.7 1051.6,451.1 1052.1,450.5 1052.6,450.1 1053.1,450.2 1053.6,450.8 1054.1,451.5 1054.6,452.0 1055.1,451.8 1055.6,451.5 1056.1,451.8 1056.6,452.7 1057.1,453.9 1057.6,455.2 1058.1,456.4 1058.6,457.0 1059.1,457.0 1059.6,456.2 1060.1,455.2 1060.6,454.2 1061.1,453.7 1061.6,454.0 1062.1,454.9 1062.6,456.0 1063.1,456.5 1063.6,456.4 1064.1,456.2 1064.6,456.6 1065.1,458.0 1065.6,459.8 1066.1,461.5 1066.6,462.6 1067.1,462.7 1067.6,462.3 1068.1,461.9 1068.6,461.8 1069.1,462.2 1069.6,463.2 1070.1,464.3 1070.6,465.2 1071.1,465.7 1071.6,465.2 1072.1,464.4 1072.6,463.7 1073.1,463.8 1073.6,464.6 1074.1,465.6 1074.6,466.2 1075.1,466.3 1075.6,465.8 1076.1,465.6 1076.6,466.3 1077.1,468.0 1077.6,469.8 1078.1,471.2 1078.6,471.5 1079.1,470.9 1079.6,469.9 1080.1,469.2 1080.6,469.2 1081.1,469.4 1081.6,470.0 1082.1,470.5 1082.6,470.4 1083.1,470.1 1083.6,469.8 1084.1,469.9 1084.6,470.8 1085.1,472.3 1085.6,473.9 1086.1,475.0 1086.6,475.4 1087.1,475.5 1087.6,475.8 1088.1,476.4 1088.6,477.2 1089.1,477.9 1089.6,478.1 1090.1,478.0 1090.6,477.9 1091.1,478.2 1091.6,478.6 1092.1,479.2 1092.6,479.7 1093.1,480.3 1093.6,481.0 1094.1,481.8 1094.6,482.5 1095.1,483.2 1095.6,483.9 1096.1,484.7 1096.6,485.3 1097.1,485.9 1097.6,485.8 1098.1,485.1 1098.6,484.6 1099.1,485.0 1099.6,486.1 1100.1,487.2 1100.6,487.8 1101.1,487.4 1101.6,486.4 1102.1,485.7 1102.6,486.1 1103.1,487.7 1103.6,489.7 1104.1,491.4 1104.6,492.0 1105.1,491.7 1105.6,491.5 1106.1,492.2 1106.6,493.6 1107.1,495.2 1107.6,496.6 1108.1,497.6 1108.6,497.6 1109.1,496.8 1109.6,495.7 1110.1,495.0 1110.6,495.3 1111.1,496.8 1111.6,498.4 1112.1,499.1 1112.6,498.6 1113.1,497.9 1113.6,497.8 1114.1,498.9 1114.6,500.8 1115.1,502.8 1115.6,504.4 1116.1,504.9 1116.6,504.2 1117.1,503.0 1117.6,501.8 1118.1,501.3 1118.6,501.9 1119.1,503.0 1119.6,504.1 1120.1,504.3 1120.6,504.1 1121.1,504.3 1121.6,505.4 1122.1,507.4 1122.6,509.8 1123.1,511.8 1123.6,512.8 1124.1,512.6 1124.6,511.6 1125.1,510.6 1125.6,510.2 1126.1,510.9 1126.6,512.5 1127.1,514.2 1127.6,515.1 1128.1,514.7 1128.6,514.0 1129.1,514.2 1129.6,515.7 1130.1,517.8 1130.6,519.9 1131.1,521.3 1131.6,521.7 1132.1,521.3 1132.6,520.7 1133.1,520.2 1133.6,520.2 1134.1,521.1 1134.6,522.6 1135.1,523.5 1135.6,523.1 1136.1,522.1 1136.6,521.2 1137.1,521.2 1137.6,522.7 1138.1,524.7 1138.6,526.6 1139.1,527.4 1139.6,527.4 1140.1,527.2 1140.6,527.5 1141.1,528.8 1141.6,530.6 1142.1,532.1 1142.6,532.7 1143.1,533.1 1143.6,533.4 1144.1,533.7 1144.6,533.9 1145.1,534.2 1145.6,534.5 1146.1,534.7 1146.6,535.1 1147.1,535.5 1147.6,536.0 1148.1,536.5 1148.6,537.1 1149.1,538.2 1149.6,539.4 1150.1,540.5 1150.6,541.0 1151.1,541.1 1151.6,541.4 1152.1,542.0 1152.6,542.9 1153.1,543.7 1153.6,543.9 1154.1,543.3 1154.6,542.6 1155.1,542.3 1155.6,542.9 1156.1,544.2 1156.6,545.7 1157.1,547.0 1157.6,547.7 1158.1,548.1 1158.6,548.7 1159.1,549.7 1159.6,551.3 1160.1,553.4 1160.6,555.4 1161.1,556.6 1161.6,556.5 1162.1,555.6 1162.6,554.5 1163.1,554.4 1163.6,555.4 1164.1,556.9 1164.6,558.2 1165.1,558.7 1165.6,558.8 1166.1,558.8 1166.6,559.4 1167.1,560.9 1167.6,563.0 1168.1,564.8 1168.6,565.8 1169.1,565.9 1169.6,565.7 1170.1,565.5 1170.6,565.8 1171.1,566.8 1171.6,568.3 1172.1,569.8 1172.6,571.0 1173.1,571.3 1173.6,570.5 1174.1,569.4 1174.6,568.6 1175.1,568.8 1175.6,569.9 1176.1,571.1 1176.6,571.9 1177.1,571.9 1177.6,571.8 1178.1,572.1 1178.6,573.4 1179.1,575.4 1179.6,577.7 1180.1,579.9 1180.6,581.3 1181.1,581.9 1181.6,581.7 1182.1,581.3 1182.6,580.8 1183.1,580.6 1183.6,581.0 1184.1,582.2 1184.6,583.6 1185.1,584.4 1185.6,584.6 1186.1,584.9 1186.6,585.5 1187.1,586.8 1187.6,588.5 1188.1,590.3 1188.6,591.7 1189.1,592.4 1189.6,592.4 1190.1,592.1 1190.6,591.8 1191.1,592.0 1191.6,592.8 1192.1,594.2 1192.6,595.7 1193.1,596.6 1193.6,596.0 1194.1,594.7 1194.6,594.2 1195.1,595.5 1195.6,597.6 1196.1,599.9 1196.6,601.8 1197.1,602.7 1197.6,603.0 1198.1,603.1 1198.6,603.3 1199.1,603.9 1199.6,604.8 1200.1,606.0 1200.6,607.0 1201.1,607.6 1201.6,607.8 1202.1,607.8 1202.6,608.0 1203.1,608.8 1203.6,610.4 1204.1,612.5 1204.6,614.3 1205.1,615.0 1205.6,615.1 1206.1,615.1 1206.6,615.6 1207.1,616.8 1207.6,618.0 1208.1,618.7 1208.6,619.1 1209.1,619.6 1209.6,620.4 1210.1,621.2 1210.6,621.8 1211.1,622.3 1211.6,622.7 1212.1,623.8 1212.6,624.7 1213.1,625.4 1213.6,626.0 1214.1,626.6 1214.6,627.7 1215.1,628.7 1215.6,629.2 1216.1,629.3 1216.6,629.7 1217.1,630.9 1217.6,632.3 1218.1,633.5 1218.6,633.8 1219.1,633.2 1219.6,632.6 1220.1,632.6 1220.6,633.6 1221.1,634.9 1221.6,636.3 1222.1,637.4 1222.6,637.9 1223.1,638.3 1223.6,638.6 1224.1,639.1 1224.6,640.1 1225.1,641.4 1225.6,642.7 1226.1,643.6 1226.6,643.8 1227.1,643.1 1227.6,642.1 1228.1,641.6 1228.6,642.4 1229.1,644.7 1229.6,647.3 1230.1,648.7 1230.6,648.9 1231.1,648.8 1231.6,649.0 1232.1,649.8 1232.6,651.3 1233.1,653.0 1233.6,654.6 1234.1,655.8 1234.6,656.2 1235.1,656.0 1235.6,655.6 1236.1,655.4 1236.6,657.9 1237.1,658.8 1237.6,659.6 1238.1,660.5 1238.6,661.3 1239.1,662.2 1239.6,663.0 1240.1,663.9 1240.6,664.8 1241.1,665.6 1241.6,666.3 1242.1,666.9 1242.6,667.6 1243.1,668.4 1243.6,669.4 1244.1,670.6 1244.6,673.0 1245.1,678.0 1245.6,681.5 1246.1,681.3 1246.6,680.5 1247.1,679.6 1247.6,679.0 1248.1,679.0 1248.6,679.2 1249.1,679.5 1249.6,680.0 1250.1,680.5 1250.6,681.4 1251.1,684.1 1251.6,687.9 1252.1,692.2 1252.6,696.3 1253.1,699.6 1253.6,702.4 1254.1,705.1 1254.6,707.2 1255.1,708.8 1255.6,709.9 1256.1,710.9 1256.6,712.1 1257.1,714.2 1257.6,717.8 1258.1,721.8 1258.6,725.2 1259.1,726.9 1259.6,727.5 1260.1,728.0 1260.6,728.4 1261.1,729.0 1261.6,730.3 1262.1,733.2 1262.6,736.9 1263.1,740.6 1263.6,743.2 1264.1,745.2 1264.6,746.9 1265.1,748.6 1265.6,750.6 1266.1,753.3 1266.6,757.0 1267.1,761.8 1267.6,767.4 1268.1,773.7 1268.6,780.5" stroke="#0000ff" stroke-width="2.9"/>
<polyline fill="none" stroke-linejoin="round" stroke-linecap="round" points="234.4,645.8 235.4,646.5 236.4,647.2 237.4,647.9 238.4,648.6 239.4,649.3 240.4,650.0 241.4,650.7 242.4,651.4 243.4,652.1 244.4,652.8 245.4,653.5 246.4,654.2 247.4,654.9 248.4,655.6 249.4,656.3 250.4,656.9 251.4,657.6 252.4,658.3 253.4,659.0 254.4,659.7 255.4,660.4 256.4,661.1 257.4,661.8 258.4,662.5 259.4,663.2 260.4,663.9 261.4,664.6 262.4,665.3 263.4,666.0 264.4,666.7 265.4,667.4 266.4,668.1 267.4,668.8 268.4,669.5 269.4,670.3 270.4,671.0 271.4,671.7 272.4,672.4 273.4,673.2 274.4,673.9 275.4,674.7 276.4,675.4 277.4,676.2 278.4,676.9 279.4,677.7 280.4,678.4 281.4,679.2 282.4,680.0 283.4,680.8 284.4,681.6 285.4,682.4 286.4,683.2 287.4,684.0 288.4,684.8 289.4,685.6 290.4,686.4 291.4,687.3 292.4,688.1 293.4,689.0 294.4,689.8 295.4,690.6 296.4,691.5 297.4,692.3 298.4,693.2 299.4,694.0 300.4,694.8 301.4,695.6 302.4,696.4 303.4,697.2 304.4,698.0 305.4,698.8 306.4,699.5 307.4,700.3 308.4,701.0 309.4,701.7 310.4,702.4 311.4,703.1 312.4,703.7 313.4,704.3 314.4,704.9 315.4,705.5 316.4,706.1 317.4,706.6 318.4,707.1 319.4,707.5 320.4,708.0 321.4,708.4 322.4,708.7 323.4,709.1 324.4,709.4 325.4,709.7 326.4,710.0 327.4,710.2 328.4,710.5 329.4,710.7 330.4,710.8 331.4,711.0 332.4,711.1 333.4,711.2 334.4,711.3 335.4,711.4 336.4,711.5 337.4,711.5 338.4,711.5 339.4,711.5 340.4,711.5 341.4,711.4 342.4,711.4 343.4,711.3 344.4,711.2 345.4,711.1 346.4,711.0 347.4,710.8 348.4,710.7 349.4,710.5 350.4,710.3 351.4,710.2 352.4,710.0 353.4,709.7 354.4,709.5 355.4,709.3 356.4,709.0 357.4,708.8 358.4,708.5 359.4,708.3 360.4,708.0 361.4,707.7 362.4,707.4 363.4,707.1 364.4,706.8 365.4,706.5 366.4,706.2 367.4,705.9 368.4,705.6 369.4,705.3 370.4,704.9 371.4,704.6 372.4,704.3 373.4,704.0 374.4,703.7 375.4,703.3 376.4,703.0 377.4,702.7 378.4,702.4 379.4,702.1 380.4,701.8 381.4,701.5 382.4,701.2 383.4,700.9 384.4,700.7 385.4,700.4 386.4,700.2 387.4,699.9 388.4,699.7 389.4,699.5 390.4,699.3 391.4,699.1 392.4,698.9 393.4,698.8 394.4,698.6 395.4,698.5 396.4,698.4 397.4,698.3 398.4,698.3 399.4,698.2 400.4,698.2 401.4,698.2 402.4,698.2 403.4,698.2 404.4,698.3 405.4,698.4 406.4,698.5 407.4,698.6 408.4,698.8 409.4,699.0 410.4,699.2 411.4,699.4 412.4,699.7 413.4,700.0 414.4,700.3 415.4,700.7 416.4,701.1 417.4,701.5 418.4,702.0 419.4,702.5 420.4,703.0 421.4,703.6 422.4,704.1 423.4,704.7 424.4,705.4 425.4,706.0 426.4,706.7 427.4,707.3 428.4,708.0 429.4,708.7 430.4,709.5 431.4,710.2 432.4,710.9 433.4,711.7 434.4,712.5 435.4,713.2 436.4,714.0 437.4,714.8 438.4,715.6 439.4,716.3 440.4,717.1 441.4,717.9 442.4,718.6 443.4,719.4 444.4,720.2 445.4,720.9 446.4,721.6 447.4,722.4 448.4,723.1 449.4,723.8 450.4,724.5 451.4,725.2 452.4,725.9 453.4,726.6 454.4,727.3 455.4,728.0 456.4,728.6 457.4,729.3 458.4,729.9 459.4,730.5 460.4,731.1 461.4,731.7 462.4,732.3 463.4,732.9 464.4,733.5 465.4,734.0 466.4,734.5 467.4,735.1 468.4,735.6 469.4,736.1 470.4,736.6 471.4,737.0 472.4,737.5 473.4,737.9 474.4,738.3 475.4,738.7 476.4,739.1 477.4,739.5 478.4,739.9 479.4,740.2 480.4,740.5 481.4,740.8 482.4,741.1 483.4,741.4 484.4,741.6 485.4,741.8 486.4,742.0 487.4,742.2 488.4,742.4 489.4,742.5 490.4,742.7 491.4,742.8 492.4,742.8 493.4,742.9 494.4,742.9 495.4,742.9 496.4,742.9 497.4,742.9 498.4,742.9 499.4,742.8 500.4,742.7 501.4,742.6 502.4,742.4 503.4,742.3 504.4,742.1 505.4,741.9 506.4,741.6 507.4,741.4 508.4,741.1 509.4,740.8 510.4,740.5 511.4,740.2 512.4,739.8 513.4,739.5 514.4,739.1 515.4,738.7 516.4,738.2 517.4,737.8 518.4,737.3 519.4,736.8 520.4,736.3 521.4,735.8 522.4,735.2 523.4,734.7 524.4,734.1 525.4,733.5 526.4,732.9 527.4,732.2 528.4,731.6 529.4,730.9 530.4,730.2 531.4,729.5 532.4,728.8 533.4,728.0 534.4,727.3 535.4,726.5 536.4,725.7 537.4,724.9 538.4,724.1 539.4,723.2 540.4,722.4 541.4,721.5 542.4,720.6 543.4,719.7 544.4,718.8 545.4,717.9 546.4,717.0 547.4,716.0 548.4,715.0 549.4,714.0 550.4,713.0 551.4,712.0 552.4,711.0 553.4,710.0 554.4,708.9 555.4,707.8 556.4,706.7 557.4,705.7 558.4,704.5 559.4,703.4 560.4,702.3 561.4,701.2 562.4,700.0 563.4,698.8 564.4,697.7 565.4,696.5 566.4,695.3 567.4,694.0 568.4,692.8 569.4,691.6 570.4,690.3 571.4,689.1 572.4,687.8 573.4,686.5 574.4,685.3 575.4,684.0 576.4,682.7 577.4,681.3 578.4,680.0 579.4,678.7 580.4,677.3 581.4,676.0 582.4,674.6 583.4,673.3 584.4,671.9 585.4,670.5 586.4,669.1 587.4,667.7 588.4,666.3 589.4,664.9 590.4,663.4 591.4,662.0 592.4,660.6 593.4,659.1 594.4,657.7 595.4,656.2 596.4,654.8 597.4,653.3 598.4,651.8 599.4,650.3 600.4,648.8 601.4,647.3 602.4,645.8 603.4,644.3 604.4,642.8 605.4,641.3 606.4,639.8 607.4,638.3 608.4,636.7 609.4,635.2 610.4,633.7 611.4,632.1 612.4,630.6 613.4,629.0 614.4,627.5 615.4,625.9 616.4,624.4 617.4,622.8 618.4,621.3 619.4,619.7 620.4,618.1 621.4,616.6 622.4,615.0 623.4,613.4 624.4,611.9 625.4,610.3 626.4,608.7 627.4,607.1 628.4,605.6 629.4,604.0 630.4,602.4 631.4,600.9 632.4,599.3 633.4,597.7 634.4,596.2 635.4,594.6 636.4,593.0 637.4,591.5 638.4,589.9 639.4,588.4 640.4,586.8 641.4,585.3 642.4,583.7 643.4,582.2 644.4,580.7 645.4,579.1 646.4,577.6 647.4,576.1 648.4,574.6 649.4,573.1 650.4,571.6 651.4,570.1 652.4,568.6 653.4,567.1 654.4,565.6 655.4,564.1 656.4,562.7 657.4,561.2 658.4,559.8 659.4,558.3 660.4,556.9 661.4,555.5 662.4,554.0 663.4,552.6 664.4,551.2 665.4,549.8 666.4,548.5 667.4,547.1 668.4,545.7 669.4,544.3 670.4,543.0 671.4,541.6 672.4,540.3 673.4,538.9 674.4,537.6 675.4,536.3 676.4,535.0 677.4,533.7 678.4,532.4 679.4,531.1 680.4,529.8 681.4,528.5 682.4,527.2 683.4,525.9 684.4,524.7 685.4,523.4 686.4,522.2 687.4,520.9 688.4,519.7 689.4,518.4 690.4,517.2 691.4,516.0 692.4,514.7 693.4,513.5 694.4,512.3 695.4,511.1 696.4,509.9 697.4,508.7 698.4,507.5 699.4,506.3 700.4,505.2 701.4,504.0 702.4,502.8 703.4,501.6 704.4,500.5 705.4,499.3 706.4,498.2 707.4,497.1 708.4,495.9 709.4,494.8 710.4,493.7 711.4,492.6 712.4,491.5 713.4,490.4 714.4,489.4 715.4,488.3 716.4,487.3 717.4,486.2 718.4,485.2 719.4,484.2 720.4,483.2 721.4,482.2 722.4,481.2 723.4,480.3 724.4,479.3 725.4,478.3 726.4,477.4 727.4,476.5 728.4,475.5 729.4,474.6 730.4,473.7 731.4,472.8 732.4,471.9 733.4,471.0 734.4,470.2 735.4,469.3 736.4,468.5 737.4,467.6 738.4,466.8 739.4,466.0 740.4,465.2 741.4,464.3 742.4,463.6 743.4,462.8 744.4,462.0 745.4,461.2 746.4,460.5 747.4,459.7 748.4,459.0 749.4,458.2 750.4,457.5 751.4,456.8 752.4,456.1 753.4,455.4 754.4,454.7 755.4,454.0 756.4,453.3 757.4,452.7 758.4,452.0 759.4,451.4 760.4,450.7 761.4,450.1 762.4,449.5 763.4,448.8 764.4,448.2 765.4,447.6 766.4,447.0 767.4,446.4 768.4,445.9 769.4,445.3 770.4,444.7 771.4,444.2 772.4,443.6 773.4,443.1 774.4,442.5 775.4,442.0 776.4,441.5 777.4,441.0 778.4,440.5 779.4,440.0 780.4,439.5 781.4,439.0 782.4,438.5 783.4,438.1 784.4,437.6 785.4,437.2 786.4,436.7 787.4,436.3 788.4,435.8 789.4,435.4 790.4,435.0 791.4,434.6 792.4,434.2 793.4,433.8 794.4,433.4 795.4,433.0 796.4,432.6 797.4,432.2 798.4,431.9 799.4,431.5 800.4,431.1 801.4,430.8 802.4,430.4 803.4,430.1 804.4,429.8 805.4,429.4 806.4,429.1 807.4,428.8 808.4,428.5 809.4,428.2 810.4,427.9 811.4,427.6 812.4,427.3 813.4,427.0 814.4,426.8 815.4,426.5 816.4,426.2 817.4,426.0 818.4,425.7 819.4,425.5 820.4,425.2 821.4,425.0 822.4,424.8 823.4,424.5 824.4,424.3 825.4,424.1 826.4,423.9 827.4,423.7 828.4,423.5 829.4,423.3 830.4,423.1 831.4,422.9 832.4,422.7 833.4,422.5 834.4,422.4 835.4,422.2 836.4,422.0 837.4,421.9 838.4,421.7 839.4,421.6 840.4,421.4 841.4,421.3 842.4,421.1 843.4,421.0 844.4,420.9 845.4,420.8 846.4,420.6 847.4,420.5 848.4,420.4 849.4,420.3 850.4,420.2 851.4,420.1 852.4,420.0 853.4,419.9 854.4,419.8 855.4,419.7 856.4,419.6 857.4,419.5 858.4,419.5 859.4,419.4 860.4,419.3 861.4,419.3 862.4,419.2 863.4,419.1 864.4,419.1 865.4,419.0 866.4,419.0 867.4,418.9 868.4,418.9 869.4,418.8 870.4,418.8 871.4,418.8 872.4,418.7 873.4,418.7 874.4,418.7 875.4,418.6 876.4,418.6 877.4,418.6 878.4,418.6 879.4,418.6 880.4,418.6 881.4,418.5 882.4,418.5 883.4,418.5 884.4,418.5 885.4,418.5 886.4,418.5 887.4,418.5 888.4,418.5 889.4,418.5 890.4,418.5 891.4,418.6 892.4,418.6 893.4,418.6 894.4,418.6 895.4,418.6 896.4,418.6 897.4,418.7 898.4,418.7 899.4,418.7 900.4,418.7 901.4,418.7 902.4,418.8 903.4,418.8 904.4,418.8 905.4,418.9 906.4,418.9 907.4,418.9 908.4,419.0 909.4,419.0 910.4,419.0 911.4,419.1 912.4,419.1 913.4,419.2 914.4,419.2 915.4,419.2 916.4,419.3 917.4,419.3 918.4,419.4 919.4,419.4 920.4,419.5 921.4,419.5 922.4,419.6 923.4,419.6 924.4,419.7 925.4,419.7 926.4,419.8 927.4,419.8 928.4,419.9 929.4,420.0 930.4,420.0 931.4,420.1 932.4,420.1 933.4,420.2 934.4,420.3 935.4,420.3 936.4,420.4 937.4,420.5 938.4,420.5 939.4,420.6 940.4,420.7 941.4,420.7 942.4,420.8 943.4,420.9 944.4,421.0 945.4,421.0 946.4,421.1 947.4,421.2 948.4,421.3 949.4,421.4 950.4,421.4 951.4,421.5 952.4,421.6 953.4,421.7 954.4,421.8 955.4,421.9 956.4,422.0 957.4,422.1 958.4,422.2 959.4,422.3 960.4,422.4 961.4,422.5 962.4,422.6 963.4,422.7 964.4,422.8 965.4,422.9 966.4,423.0 967.4,423.1 968.4,423.2 969.4,423.3 970.4,423.4 971.4,423.6 972.4,423.7 973.4,423.8 974.4,424.0 975.4,424.1 976.4,424.2 977.4,424.4 978.4,424.5 979.4,424.7 980.4,424.8 981.4,425.0 982.4,425.1 983.4,425.3 984.4,425.5 985.4,425.6 986.4,425.8 987.4,426.0 988.4,426.2 989.4,426.4 990.4,426.6 991.4,426.8 992.4,427.0 993.4,427.2 994.4,427.4 995.4,427.7 996.4,427.9 997.4,428.1 998.4,428.4 999.4,428.6 1000.4,428.9 1001.4,429.1 1002.4,429.4 1003.4,429.7 1004.4,429.9 1005.4,430.2 1006.4,430.5 1007.4,430.8 1008.4,431.1 1009.4,431.4 1010.4,431.8 1011.4,432.1 1012.4,432.4 1013.4,432.7 1014.4,433.1 1015.4,433.4 1016.4,433.8 1017.4,434.2 1018.4,434.5 1019.4,434.9 1020.4,435.3 1021.4,435.7 1022.4,436.1 1023.4,436.5 1024.4,436.9 1025.4,437.3 1026.4,437.7 1027.4,438.2 1028.4,438.6 1029.4,439.1 1030.4,439.5 1031.4,440.0 1032.4,440.4 1033.4,440.9 1034.4,441.4 1035.4,441.8 1036.4,442.3 1037.4,442.8 1038.4,443.3 1039.4,443.8 1040.4,444.4 1041.4,444.9 1042.4,445.4 1043.4,445.9 1044.4,446.5 1045.4,447.0 1046.4,447.6 1047.4,448.1 1048.4,448.7 1049.4,449.3 1050.4,449.9 1051.4,450.5 1052.4,451.0 1053.4,451.6 1054.4,452.3 1055.4,452.9 1056.4,453.5 1057.4,454.1 1058.4,454.7 1059.4,455.4 1060.4,456.0 1061.4,456.7 1062.4,457.3 1063.4,458.0 1064.4,458.7 1065.4,459.3 1066.4,460.0 1067.4,460.7 1068.4,461.4 1069.4,462.1 1070.4,462.8 1071.4,463.5 1072.4,464.3 1073.4,465.0 1074.4,465.7 1075.4,466.5 1076.4,467.2 1077.4,468.0 1078.4,468.7 1079.4,469.5 1080.4,470.3 1081.4,471.1 1082.4,471.8 1083.4,472.6 1084.4,473.4 1085.4,474.2 1086.4,475.1 1087.4,475.9 1088.4,476.7 1089.4,477.5 1090.4,478.4 1091.4,479.2 1092.4,480.1 1093.4,480.9 1094.4,481.8 1095.4,482.6 1096.4,483.5 1097.4,484.4 1098.4,485.3 1099.4,486.2 1100.4,487.1 1101.4,488.0 1102.4,488.9 1103.4,489.8 1104.4,490.8 1105.4,491.7 1106.4,492.6 1107.4,493.6 1108.4,494.5 1109.4,495.5 1110.4,496.5 1111.4,497.4 1112.4,498.4 1113.4,499.4 1114.4,500.4 1115.4,501.4 1116.4,502.4 1117.4,503.4 1118.4,504.4 1119.4,505.4 1120.4,506.4 1121.4,507.5 1122.4,508.5 1123.4,509.6 1124.4,510.6 1125.4,511.7 1126.4,512.7 1127.4,513.8 1128.4,514.9 1129.4,516.0 1130.4,517.1 1131.4,518.2 1132.4,519.3 1133.4,520.4 1134.4,521.5 1135.4,522.6 1136.4,523.8 1137.4,524.9 1138.4,526.0 1139.4,527.2 1140.4,528.3 1141.4,529.5 1142.4,530.6 1143.4,531.8 1144.4,533.0 1145.4,534.2 1146.4,535.4 1147.4,536.6 1148.4,537.7 1149.4,539.0 1150.4,540.2 1151.4,541.4 1152.4,542.6 1153.4,543.8 1154.4,545.0 1155.4,546.3 1156.4,547.5 1157.4,548.8 1158.4,550.0 1159.4,551.3 1160.4,552.5 1161.4,553.8 1162.4,555.0 1163.4,556.3 1164.4,557.6 1165.4,558.9 1166.4,560.2 1167.4,561.4 1168.4,562.7 1169.4,564.0 1170.4,565.3 1171.4,566.6 1172.4,567.9 1173.4,569.3 1174.4,570.6 1175.4,571.9 1176.4,573.2 1177.4,574.5 1178.4,575.9 1179.4,577.2 1180.4,578.5 1181.4,579.9 1182.4,581.2 1183.4,582.6 1184.4,583.9 1185.4,585.3 1186.4,586.6 1187.4,588.0 1188.4,589.4 1189.4,590.7 1190.4,592.1 1191.4,593.5 1192.4,594.8 1193.4,596.2 1194.4,597.6 1195.4,599.0 1196.4,600.3 1197.4,601.7 1198.4,603.1 1199.4,604.5 1200.4,605.9 1201.4,607.3 1202.4,608.7 1203.4,610.1 1204.4,611.5 1205.4,612.9 1206.4,614.3 1207.4,615.7 1208.4,617.1 1209.4,618.5 1210.4,619.9 1211.4,621.3 1212.4,622.7 1213.4,624.2 1214.4,625.6 1215.4,627.0 1216.4,628.4 1217.4,629.8 1218.4,631.2 1219.4,632.7 1220.4,634.1 1221.4,635.5 1222.4,636.9 1223.4,638.4 1224.4,639.8 1225.4,641.2 1226.4,642.6 1227.4,644.1 1228.4,645.5 1229.4,646.9 1230.4,648.3 1231.4,649.8 1232.4,651.2 1233.4,652.6 1234.4,654.0 1235.4,655.5 1236.4,656.9 1236.6,657.2" stroke="#008000" stroke-width="2.1"/>
</g>
<circle cx="234.40" cy="645.76" r="5.80" fill="none" stroke="#008000" stroke-width="2.2"/>
<circle cx="288.70" cy="685.04" r="5.80" fill="none" stroke="#008000" stroke-width="2.2"/>
<circle cx="343.20" cy="711.31" r="5.80" fill="none" stroke="#008000" stroke-width="2.2"/>
<circle cx="395.60" cy="698.50" r="5.80" fill="none" stroke="#008000" stroke-width="2.2"/>
<circle cx="442.00" cy="718.33" r="5.80" fill="none" stroke="#008000" stroke-width="2.2"/>
<circle cx="495.60" cy="742.95" r="5.80" fill="none" stroke="#008000" stroke-width="2.2"/>
<circle cx="550.90" cy="712.53" r="5.80" fill="none" stroke="#008000" stroke-width="2.2"/>
<circle cx="602.10" cy="646.29" r="5.80" fill="none" stroke="#008000" stroke-width="2.2"/>
<circle cx="654.70" cy="565.17" r="5.80" fill="none" stroke="#008000" stroke-width="2.2"/>
<circle cx="701.80" cy="503.52" r="5.80" fill="none" stroke="#008000" stroke-width="2.2"/>
<circle cx="761.40" cy="450.08" r="5.80" fill="none" stroke="#008000" stroke-width="2.2"/>
<circle cx="812.00" cy="427.44" r="5.80" fill="none" stroke="#008000" stroke-width="2.2"/>
<circle cx="869.20" cy="418.84" r="5.80" fill="none" stroke="#008000" stroke-width="2.2"/>
<circle cx="920.30" cy="419.47" r="5.80" fill="none" stroke="#008000" stroke-width="2.2"/>
<circle cx="964.40" cy="422.77" r="5.80" fill="none" stroke="#008000" stroke-width="2.2"/>
<circle cx="1024.50" cy="436.94" r="5.80" fill="none" stroke="#008000" stroke-width="2.2"/>
<circle cx="1080.30" cy="470.20" r="5.80" fill="none" stroke="#008000" stroke-width="2.2"/>
<circle cx="1133.50" cy="520.50" r="5.80" fill="none" stroke="#008000" stroke-width="2.2"/>
<circle cx="1182.80" cy="581.76" r="5.80" fill="none" stroke="#008000" stroke-width="2.2"/>
<circle cx="1236.60" cy="657.19" r="5.80" fill="none" stroke="#008000" stroke-width="2.2"/>
<polyline fill="none" stroke-linejoin="round" stroke-linecap="round" points="266.3,668.0 267.3,668.7 268.3,669.5 269.3,670.2 270.3,670.9 271.3,671.6 272.3,672.4 273.3,673.1 274.3,673.8 275.3,674.6 276.3,675.3 277.3,676.1 278.3,676.8 279.3,677.6 280.3,678.4 281.3,679.1 282.3,679.9 283.3,680.7 284.3,681.5 285.3,682.3 286.3,683.1 287.3,683.9 288.3,684.7 289.3,685.5 290.3,686.4 291.3,687.2 292.3,688.0 293.3,688.9 294.3,689.7 295.3,690.6 296.3,691.4 297.3,692.2 298.3,693.1 299.3,693.9 300.3,694.7 301.3,695.5 302.3,696.3 303.3,697.1 304.3,697.9 305.3,698.7 306.3,699.5 307.3,700.2 308.3,700.9 309.3,701.6 310.3,702.3 311.3,703.0 312.3,703.6 313.3,704.3 314.3,704.9 315.3,705.5 316.3,706.0 317.3,706.5 318.3,707.0 319.3,707.5 320.3,707.9 321.3,708.3 322.3,708.7 323.3,709.1 324.3,709.4 325.3,709.7 326.3,710.0 327.3,710.2 328.3,710.4 329.3,710.6 330.3,710.8 331.3,711.0 332.3,711.1 333.3,711.2 334.3,711.3 335.3,711.4 336.3,711.5 337.3,711.5 338.3,711.5 339.3,711.5 340.3,711.5 341.3,711.4 342.3,711.4 343.3,711.3 344.3,711.2 345.3,711.1 346.3,711.0 347.3,710.8 348.3,710.7 349.3,710.5 350.3,710.4 351.3,710.2 352.3,710.0 353.3,709.8 354.3,709.5 355.3,709.3 356.3,709.1 357.3,708.8 358.3,708.6 359.3,708.3 360.3,708.0 361.3,707.7 362.3,707.5 363.3,707.2 364.3,706.9 365.3,706.6 366.3,706.2 367.3,705.9 368.3,705.6 369.3,705.3 370.3,705.0 371.3,704.6 372.3,704.3 373.3,704.0 374.3,703.7 375.3,703.4 376.3,703.0 377.3,702.7 378.3,702.4 379.3,702.1 380.3,701.8 381.3,701.5 382.3,701.3 383.3,701.0 384.3,700.7 385.3,700.4 386.3,700.2 387.3,700.0 388.3,699.7 389.3,699.5 390.3,699.3 391.3,699.1 392.3,699.0 393.3,698.8 394.3,698.7 395.3,698.5 396.3,698.4 397.3,698.3 398.3,698.3 399.3,698.2 400.3,698.2 401.3,698.2 402.3,698.2 403.3,698.2 404.3,698.3 405.3,698.4 406.3,698.5 407.3,698.6 408.3,698.8 409.3,699.0 410.3,699.2 411.3,699.4 412.3,699.7 413.3,700.0 414.3,700.3 415.3,700.7 416.3,701.1 417.3,701.5 418.3,702.0 419.3,702.4 420.3,703.0 421.3,703.5 422.3,704.1 423.3,704.7 424.3,705.3 425.3,705.9 426.3,706.6 427.3,707.3 428.3,708.0 429.3,708.7 430.3,709.4 431.3,710.1 432.3,710.9 433.3,711.6 434.3,712.4 435.3,713.2 436.3,713.9 437.3,714.7 438.3,715.5 439.3,716.3 440.3,717.0 441.3,717.8 442.3,718.6 443.3,719.3 444.3,720.1 445.3,720.8 446.3,721.6 447.3,722.3 448.3,723.0 449.3,723.8 450.3,724.5 451.3,725.2 452.3,725.9 453.3,726.5 454.3,727.2 455.3,727.9 456.3,728.5 457.3,729.2 458.3,729.8 459.3,730.5 460.3,731.1 461.3,731.7 462.3,732.3 463.3,732.8 464.3,733.4 465.3,734.0 466.3,734.5 467.3,735.0 468.3,735.5 469.3,736.0 470.3,736.5 471.3,737.0 472.3,737.4 473.3,737.9 474.3,738.3 475.3,738.7 476.3,739.1 477.3,739.5 478.3,739.8 479.3,740.2 480.3,740.5 481.3,740.8 482.3,741.1 483.3,741.3 484.3,741.6 485.3,741.8 486.3,742.0 487.3,742.2 488.3,742.4 489.3,742.5 490.3,742.6 491.3,742.7 492.3,742.8 493.3,742.9 494.3,742.9 495.3,742.9 496.3,742.9 497.3,742.9 498.3,742.9 499.3,742.8 500.3,742.7 501.3,742.6 502.3,742.4 503.3,742.3 504.3,742.1 505.3,741.9 506.3,741.7 507.3,741.4 508.3,741.1 509.3,740.9 510.3,740.5 511.3,740.2 512.3,739.9 513.3,739.5 514.3,739.1 515.3,738.7 516.3,738.3 517.3,737.8 518.3,737.3 519.3,736.9 520.3,736.4 521.3,735.8 522.3,735.3 523.3,734.7 524.3,734.1 525.3,733.5 526.3,732.9 527.3,732.3 528.3,731.6 529.3,731.0 530.3,730.3 531.3,729.6 532.3,728.8 533.3,728.1 534.3,727.4 535.3,726.6 536.3,725.8 537.3,725.0 538.3,724.2 539.3,723.3 540.3,722.5 541.3,721.6 542.3,720.7 543.3,719.8 544.3,718.9 545.3,718.0 546.3,717.1 547.3,716.1 548.3,715.1 549.3,714.1 550.3,713.1 551.3,712.1 552.3,711.1 553.3,710.1 554.3,709.0 555.3,707.9 556.3,706.9 557.3,705.8 558.3,704.7 559.3,703.5 560.3,702.4 561.3,701.3 562.3,700.1 563.3,698.9 564.3,697.8 565.3,696.6 566.3,695.4 567.3,694.2 568.3,692.9 569.3,691.7 570.3,690.5 571.3,689.2 572.3,687.9 573.3,686.7 574.3,685.4 575.3,684.1 576.3,682.8 577.3,681.5 578.3,680.1 579.3,678.8 580.3,677.5 581.3,676.1 582.3,674.8 583.3,673.4 584.3,672.0 585.3,670.6 586.3,669.2 587.3,667.8 588.3,666.4 589.3,665.0 590.3,663.6 591.3,662.2 592.3,660.7 593.3,659.3 594.3,657.8 595.3,656.4 596.3,654.9 597.3,653.4 598.3,652.0 599.3,650.5 600.3,649.0 601.3,647.5 602.3,646.0 603.3,644.5 604.3,643.0 605.3,641.5 606.3,639.9 607.3,638.4 608.3,636.9 609.3,635.4 610.3,633.8 611.3,632.3 612.3,630.7 613.3,629.2 614.3,627.6 615.3,626.1 616.3,624.5 617.3,623.0 618.3,621.4 619.3,619.9 620.3,618.3 621.3,616.7 622.3,615.2 623.3,613.6 624.3,612.0 625.3,610.4 626.3,608.9 627.3,607.3 628.3,605.7 629.3,604.2 630.3,602.6 631.3,601.0 632.3,599.5 633.3,597.9 634.3,596.3 635.3,594.8 636.3,593.2 637.3,591.6 638.3,590.1 639.3,588.5 640.3,587.0 641.3,585.4 642.3,583.9 643.3,582.4 644.3,580.8 645.3,579.3 646.3,577.8 647.3,576.3 648.3,574.7 649.3,573.2 650.3,571.7 651.3,570.2 652.3,568.7 653.3,567.2 654.3,565.8 655.3,564.3 656.3,562.8 657.3,561.4 658.3,559.9 659.3,558.5 660.3,557.0 661.3,555.6 662.3,554.2 663.3,552.8 664.3,551.4 665.3,550.0 666.3,548.6 667.3,547.2 668.3,545.8 669.3,544.5 670.3,543.1 671.3,541.8 672.3,540.4 673.3,539.1 674.3,537.7 675.3,536.4 676.3,535.1 677.3,533.8 678.3,532.5 679.3,531.2 680.3,529.9 681.3,528.6 682.3,527.3 683.3,526.1 684.3,524.8 685.3,523.5 686.3,522.3 687.3,521.0 688.3,519.8 689.3,518.5 690.3,517.3 691.3,516.1 692.3,514.9 693.3,513.7 694.3,512.4 695.3,511.2 696.3,510.0 697.3,508.8 698.3,507.6 699.3,506.5 700.3,505.3 701.3,504.1 702.3,502.9 703.3,501.8 704.3,500.6 705.3,499.4 706.3,498.3 707.3,497.2 708.3,496.0 709.3,494.9 710.3,493.8 711.3,492.7 712.3,491.6 713.3,490.6 714.3,489.5 715.3,488.4 716.3,487.4 717.3,486.3 718.3,485.3 719.3,484.3 720.3,483.3 721.3,482.3 722.3,481.3 723.3,480.3 724.3,479.4 725.3,478.4 726.3,477.5 727.3,476.5 728.3,475.6 729.3,474.7 730.3,473.8 731.3,472.9 732.3,472.0 733.3,471.1 734.3,470.3 735.3,469.4 736.3,468.5 737.3,467.7 738.3,466.9 739.3,466.0 740.3,465.2 741.3,464.4 742.3,463.6 743.3,462.8 744.3,462.1 745.3,461.3 746.3,460.5 747.3,459.8 748.3,459.0 749.3,458.3 750.3,457.6 751.3,456.9 752.3,456.1 753.3,455.4 754.3,454.8 755.3,454.1 756.3,453.4 757.3,452.7 758.3,452.1 759.3,451.4 760.3,450.8 761.3,450.1 762.3,449.5 763.3,448.9 764.3,448.3 765.3,447.7 766.3,447.1 767.3,446.5 768.3,445.9 769.3,445.3 770.3,444.8 771.3,444.2 772.3,443.7 773.3,443.1 774.3,442.6 775.3,442.1 776.3,441.6 777.3,441.0 778.3,440.5 779.3,440.0 780.3,439.5 781.3,439.1 782.3,438.6 783.3,438.1 784.3,437.7 785.3,437.2 786.3,436.8 787.3,436.3 788.3,435.9 789.3,435.4 790.3,435.0 791.3,434.6 792.3,434.2 793.3,433.8 794.3,433.4 795.3,433.0 796.3,432.6 797.3,432.3 798.3,431.9 799.3,431.5 800.3,431.2 801.3,430.8 802.3,430.5 803.3,430.1 804.3,429.8 805.3,429.5 806.3,429.2 807.3,428.8 808.3,428.5 809.3,428.2 810.3,427.9 811.3,427.6 812.3,427.4 813.3,427.1 814.3,426.8 815.3,426.5 816.3,426.3 817.3,426.0 818.3,425.8 819.3,425.5 820.3,425.3 821.3,425.0 822.3,424.8 823.3,424.6 824.3,424.3 825.3,424.1 826.3,423.9 827.3,423.7 828.3,423.5 829.3,423.3 830.3,423.1 831.3,422.9 832.3,422.7 833.3,422.6 834.3,422.4 835.3,422.2 836.3,422.1 837.3,421.9 838.3,421.7 839.3,421.6 840.3,421.4 841.3,421.3 842.3,421.2 843.3,421.0 844.3,420.9 845.3,420.8 846.3,420.6 847.3,420.5 848.3,420.4 849.3,420.3 850.3,420.2 851.3,420.1 852.3,420.0 853.3,419.9 854.3,419.8 855.3,419.7 856.3,419.6 857.3,419.6 858.3,419.5 859.3,419.4 860.3,419.3 861.3,419.3 862.3,419.2 863.3,419.1 864.3,419.1 865.3,419.0 866.3,419.0 867.3,418.9 868.3,418.9 869.3,418.8 870.3,418.8 871.3,418.8 872.3,418.7 873.3,418.7 874.3,418.7 875.3,418.6 876.3,418.6 877.3,418.6 878.3,418.6 879.3,418.6 880.3,418.6 881.3,418.5 882.3,418.5 883.3,418.5 884.3,418.5 885.3,418.5 886.3,418.5 887.3,418.5 888.3,418.5 889.3,418.5 890.3,418.5 891.3,418.6 892.3,418.6 893.3,418.6 894.3,418.6 895.3,418.6 896.3,418.6 897.3,418.6 898.3,418.7 899.3,418.7 900.3,418.7 901.3,418.7 902.3,418.8 903.3,418.8 904.3,418.8 905.3,418.9 906.3,418.9 907.3,418.9 908.3,419.0 909.3,419.0 910.3,419.0 911.3,419.1 912.3,419.1 913.3,419.2 914.3,419.2 915.3,419.2 916.3,419.3 917.3,419.3 918.3,419.4 919.3,419.4 920.3,419.5 921.3,419.5 922.3,419.6 923.3,419.6 924.3,419.7 925.3,419.7 926.3,419.8 927.3,419.8 928.3,419.9 929.3,419.9 930.3,420.0 931.3,420.1 932.3,420.1 933.3,420.2 934.3,420.3 935.3,420.3 936.3,420.4 937.3,420.4 938.3,420.5 939.3,420.6 940.3,420.7 941.3,420.7 942.3,420.8 943.3,420.9 944.3,421.0 945.3,421.0 946.3,421.1 947.3,421.2 948.3,421.3 949.3,421.4 950.3,421.4 951.3,421.5 952.3,421.6 953.3,421.7 954.3,421.8 955.3,421.9 956.3,422.0 957.3,422.1 958.3,422.2 959.3,422.3 960.3,422.3 961.3,422.4 962.3,422.5 963.3,422.7 964.3,422.8 965.3,422.9 966.3,423.0 967.3,423.1 968.3,423.2 969.3,423.3 970.3,423.4 971.3,423.6 972.3,423.7 973.3,423.8 974.3,423.9 975.3,424.1 976.3,424.2 977.3,424.4 978.3,424.5 979.3,424.7 980.3,424.8 981.3,425.0 982.3,425.1 983.3,425.3 984.3,425.5 985.3,425.6 986.3,425.8 987.3,426.0 988.3,426.2 989.3,426.4 990.3,426.6 991.3,426.8 992.3,427.0 993.3,427.2 994.3,427.4 995.3,427.6 996.3,427.9 997.3,428.1 998.3,428.3 999.3,428.6 1000.3,428.8 1001.3,429.1 1002.3,429.4 1003.3,429.6 1004.3,429.9 1005.3,430.2 1006.3,430.5 1007.3,430.8 1008.3,431.1 1009.3,431.4 1010.3,431.7 1011.3,432.0 1012.3,432.4 1013.3,432.7 1014.3,433.1 1015.3,433.4 1016.3,433.8 1017.3,434.1 1018.3,434.5 1019.3,434.9 1020.3,435.3 1021.3,435.6 1022.3,436.0 1023.3,436.4 1024.3,436.9 1025.3,437.3 1026.3,437.7 1027.3,438.1 1028.3,438.6 1029.3,439.0 1030.3,439.5 1031.3,439.9 1032.3,440.4 1033.3,440.8 1034.3,441.3 1035.3,441.8 1036.3,442.3 1037.3,442.8 1038.3,443.3 1039.3,443.8 1040.3,444.3 1041.3,444.8 1042.3,445.4 1043.3,445.9 1044.3,446.4 1045.3,447.0 1046.3,447.5 1047.3,448.1 1048.3,448.7 1049.3,449.2 1050.3,449.8 1051.3,450.4 1052.3,451.0 1053.3,451.6 1054.3,452.2 1055.3,452.8 1056.3,453.4 1057.3,454.0 1058.3,454.7 1059.3,455.3 1060.3,456.0 1061.3,456.6 1062.3,457.3 1063.3,457.9 1064.3,458.6 1065.3,459.3 1066.3,460.0 1067.3,460.6 1068.3,461.3 1069.3,462.0 1070.3,462.8 1071.3,463.5 1072.3,464.2 1073.3,464.9 1074.3,465.7 1075.3,466.4 1076.3,467.1 1077.3,467.9 1078.3,468.7 1079.3,469.4 1080.3,470.2 1081.3,471.0 1082.3,471.8 1083.3,472.6 1084.3,473.4 1085.3,474.2 1086.3,475.0 1087.3,475.8 1088.3,476.6 1089.3,477.4 1090.3,478.3 1091.3,479.1 1092.3,480.0 1093.3,480.8 1094.3,481.7 1095.3,482.6 1096.3,483.4 1097.3,484.3 1098.3,485.2 1099.3,486.1 1100.3,487.0 1101.3,487.9 1102.3,488.8 1103.3,489.7 1104.3,490.7 1105.3,491.6 1106.3,492.5 1107.3,493.5 1108.3,494.4 1109.3,495.4 1110.3,496.4 1111.3,497.3 1112.3,498.3 1113.3,499.3 1114.3,500.3 1115.3,501.3 1116.3,502.3 1117.3,503.3 1118.3,504.3 1119.3,505.3 1120.3,506.3 1121.3,507.4 1122.3,508.4 1123.3,509.5 1124.3,510.5 1125.3,511.6 1126.3,512.6 1127.3,513.7 1128.3,514.8 1129.3,515.9 1130.3,517.0 1131.3,518.1 1132.3,519.2 1133.3,520.3 1134.3,521.4 1135.3,522.5 1136.3,523.6 1137.3,524.8 1138.3,525.9 1139.3,527.1 1140.3,528.2 1141.3,529.4 1142.3,530.5 1143.3,531.7 1144.3,532.9 1145.3,534.1 1146.3,535.2 1147.3,536.4 1148.3,537.6 1149.3,538.8 1150.3,540.0 1151.3,541.3 1152.3,542.5 1153.3,543.7 1154.3,544.9 1155.3,546.2 1156.3,547.4 1157.3,548.6 1158.3,549.9 1159.3,551.1 1160.3,552.4 1161.3,553.7 1162.3,554.9 1163.3,556.2 1164.3,557.5 1165.3,558.7 1166.3,560.0 1167.3,561.3 1168.3,562.6 1169.3,563.9 1170.3,565.2 1171.3,566.5 1172.3,567.8 1173.3,569.1 1174.3,570.4 1175.3,571.8 1176.3,573.1 1177.3,574.4 1178.3,575.7 1179.3,577.1 1180.3,578.4 1181.3,579.7 1182.3,581.1 1183.3,582.4 1184.3,583.8 1185.3,585.1 1186.3,586.5 1187.3,587.9 1188.3,589.2 1189.3,590.6 1190.3,591.9 1191.3,593.3 1192.3,594.7 1193.3,596.1 1194.3,597.4 1195.3,598.8 1196.3,600.2 1197.3,601.6 1198.3,603.0 1199.3,604.4 1200.3,605.8 1201.3,607.2 1202.3,608.5 1203.3,609.9 1204.0,610.9" stroke="#ff0000" stroke-width="2.1"/>
<rect x="261.60" y="663.33" width="9.40" height="9.40" fill="none" stroke="#ff0000" stroke-width="2.4"/>
<rect x="312.80" y="701.92" width="9.40" height="9.40" fill="none" stroke="#ff0000" stroke-width="2.4"/>
<rect x="360.90" y="701.76" width="9.40" height="9.40" fill="none" stroke="#ff0000" stroke-width="2.4"/>
<rect x="411.80" y="696.45" width="9.40" height="9.40" fill="none" stroke="#ff0000" stroke-width="2.4"/>
<rect x="464.30" y="731.18" width="9.40" height="9.40" fill="none" stroke="#ff0000" stroke-width="2.4"/>
<rect x="506.90" y="735.41" width="9.40" height="9.40" fill="none" stroke="#ff0000" stroke-width="2.4"/>
<rect x="562.70" y="689.35" width="9.40" height="9.40" fill="none" stroke="#ff0000" stroke-width="2.4"/>
<rect x="607.70" y="625.89" width="9.40" height="9.40" fill="none" stroke="#ff0000" stroke-width="2.4"/>
<rect x="654.60" y="553.77" width="9.40" height="9.40" fill="none" stroke="#ff0000" stroke-width="2.4"/>
<rect x="703.60" y="491.34" width="9.40" height="9.40" fill="none" stroke="#ff0000" stroke-width="2.4"/>
<rect x="756.70" y="445.38" width="9.40" height="9.40" fill="none" stroke="#ff0000" stroke-width="2.4"/>
<rect x="807.30" y="422.74" width="9.40" height="9.40" fill="none" stroke="#ff0000" stroke-width="2.4"/>
<rect x="855.10" y="414.67" width="9.40" height="9.40" fill="none" stroke="#ff0000" stroke-width="2.4"/>
<rect x="904.60" y="414.30" width="9.40" height="9.40" fill="none" stroke="#ff0000" stroke-width="2.4"/>
<rect x="953.10" y="417.41" width="9.40" height="9.40" fill="none" stroke="#ff0000" stroke-width="2.4"/>
<rect x="999.40" y="425.16" width="9.40" height="9.40" fill="none" stroke="#ff0000" stroke-width="2.4"/>
<rect x="1049.80" y="447.61" width="9.40" height="9.40" fill="none" stroke="#ff0000" stroke-width="2.4"/>
<rect x="1098.30" y="484.76" width="9.40" height="9.40" fill="none" stroke="#ff0000" stroke-width="2.4"/>
<rect x="1148.30" y="538.62" width="9.40" height="9.40" fill="none" stroke="#ff0000" stroke-width="2.4"/>
<rect x="1199.30" y="606.23" width="9.40" height="9.40" fill="none" stroke="#ff0000" stroke-width="2.4"/>
<rect x="449.10" y="702.40" width="100.50" height="61.35" fill="none" stroke="#3a3a3a" stroke-width="2.2"/>
<path d="M158.30 571.50L449.10 702.40M592.50 571.50L549.60 702.40" stroke="#2a2a2a" stroke-width="1.8" fill="none"/>
<text class="tk" x="102.50" y="815.40" text-anchor="middle">4.5</text>
<text class="tk" x="232.63" y="815.40" text-anchor="middle">4</text>
<text class="tk" x="362.77" y="815.40" text-anchor="middle">3.5</text>
<text class="tk" x="492.90" y="815.40" text-anchor="middle">3</text>
<text class="tk" x="623.03" y="815.40" text-anchor="middle">2.5</text>
<text class="tk" x="753.17" y="815.40" text-anchor="middle">2</text>
<text class="tk" x="883.30" y="815.40" text-anchor="middle">1.5</text>
<text class="tk" x="1013.43" y="815.40" text-anchor="middle">1</text>
<text class="tk" x="1143.57" y="815.40" text-anchor="middle">0.5</text>
<text class="tk" x="1273.70" y="815.40" text-anchor="middle">0</text>
<text class="tk" x="96.00" y="388.70" text-anchor="end">&#8211;10</text>
<text class="tk" x="96.00" y="456.95" text-anchor="end">&#8211;20</text>
<text class="tk" x="96.00" y="525.20" text-anchor="end">&#8211;30</text>
<text class="tk" x="96.00" y="593.45" text-anchor="end">&#8211;40</text>
<text class="tk" x="96.00" y="661.70" text-anchor="end">&#8211;50</text>
<text class="tk" x="96.00" y="729.95" text-anchor="end">&#8211;60</text>
<text class="tk" x="96.00" y="798.20" text-anchor="end">&#8211;70</text>
<text class="lab" transform="translate(43.5,721) rotate(-90)">dF/dQ [lbs.Ah<tspan dy="-15.3" dx="0" font-size="29px">&#8722;</tspan><tspan font-size="26px" dx="-1.5" dy="-3.2">1</tspan><tspan dy="18.5" dx="3.5">]</tspan></text>
<text class="lab" x="688.5" y="855.3" text-anchor="middle">Discharge Capacity [Ah]</text>
<rect x="158.30" y="402.00" width="434.20" height="169.50" fill="#fff" stroke="none"/>
<rect x="158.30" y="402.00" width="434.20" height="169.50" fill="none" stroke="#3c3c3c" stroke-width="2.0"/>
<path d="M186.50 571.50V567.00M186.50 402.00V406.50M279.90 571.50V567.00M279.90 402.00V406.50M373.30 571.50V567.00M373.30 402.00V406.50M466.70 571.50V567.00M466.70 402.00V406.50M560.10 571.50V567.00M560.10 402.00V406.50M158.30 425.60H162.80M592.50 425.60H588.00M158.30 491.00H162.80M592.50 491.00H588.00M158.30 556.40H162.80M592.50 556.40H588.00" fill="none" stroke="#3c3c3c" stroke-width="2.0"/>
<g clip-path="url(#ci)" fill="none" stroke-linejoin="round" stroke-linecap="round">
<polyline points="196.3,400.5 196.8,403.6 197.3,406.6 197.8,409.5 198.3,412.4 198.8,415.9 199.3,420.3 199.8,424.7 200.3,427.9 200.8,430.2 201.3,432.2 201.8,433.9 202.3,435.4 202.8,436.9 203.3,438.3 203.8,439.6 204.3,440.8 204.8,441.6 205.3,442.2 205.8,442.6 206.3,442.9 206.8,443.1 207.3,443.3 207.8,443.5 208.3,443.8 208.8,444.1 209.3,444.6 209.8,445.7 210.3,447.1 210.8,448.9 211.3,450.9 211.8,452.9 212.3,454.7 212.8,456.3 213.3,457.5 213.8,458.1 214.3,458.1 214.8,457.3 215.3,456.2 215.8,454.7 216.3,453.2 216.8,451.8 217.3,450.7 217.8,450.1 218.3,450.2 218.8,451.2 219.3,452.9 219.8,455.2 220.3,457.9 220.8,461.0 221.3,464.1 221.8,467.3 222.3,470.3 222.8,472.9 223.3,475.1 223.8,476.7 224.3,477.5 224.8,477.4 225.3,476.1 225.8,473.8 226.3,470.8 226.8,467.2 227.3,463.2 227.8,459.0 228.3,454.8 228.8,450.9 229.3,447.4 229.8,444.5 230.3,442.4 230.8,441.3 231.3,441.3 231.8,442.1 232.3,443.4 232.8,445.2 233.3,447.4 233.8,449.9 234.3,452.6 234.8,455.5 235.3,458.4 235.8,461.3 236.3,464.0 236.8,466.5 237.3,468.7 237.8,470.5 238.3,471.8 238.8,472.6 239.3,472.7 239.8,472.4 240.3,471.9 240.8,471.1 241.3,470.3 241.8,469.3 242.3,468.4 242.8,467.5 243.3,466.7 243.8,466.0 244.3,465.6 244.8,465.4 245.3,465.7 245.8,466.6 246.3,467.9 246.8,469.6 247.3,471.7 247.8,474.0 248.3,476.4 248.8,478.9 249.3,481.5 249.8,484.0 250.3,486.3 250.8,488.4 251.3,490.2 251.8,491.6 252.3,492.6 252.8,493.0 253.3,492.6 253.8,491.0 254.3,488.5 254.8,485.0 255.3,480.9 255.8,476.3 256.3,471.4 256.8,466.3 257.3,461.1 257.8,456.1 258.3,451.5 258.8,447.3 259.3,443.8 259.8,441.2 260.3,439.5 260.8,439.0 261.3,440.4 261.8,443.7 262.3,448.6 262.8,454.7 263.3,461.5 263.8,468.7 264.3,475.9 264.8,482.7 265.3,488.7 265.8,493.4 266.3,496.6 266.8,497.7 267.3,497.3 267.8,496.2 268.3,494.6 268.8,492.6 269.3,490.3 269.8,487.9 270.3,485.5 270.8,483.2 271.3,481.2 271.8,479.6 272.3,478.5 272.8,478.1 273.3,478.5 273.8,479.7 274.3,481.5 274.8,483.9 275.3,486.8 275.8,490.0 276.3,493.5 276.8,497.2 277.3,501.0 277.8,504.9 278.3,508.6 278.8,512.1 279.3,515.3 279.8,518.2 280.3,520.6 280.8,522.4 281.3,523.6 281.8,524.0 282.3,523.6 282.8,522.4 283.3,520.6 283.8,518.2 284.3,515.3 284.8,512.1 285.3,508.7 285.8,505.1 286.3,501.5 286.8,498.0 287.3,494.7 287.8,491.6 288.3,488.9 288.8,486.7 289.3,485.1 289.8,484.3 290.3,484.1 290.8,484.7 291.3,485.7 291.8,487.0 292.3,488.7 292.8,490.5 293.3,492.4 293.8,494.2 294.3,495.9 294.8,497.4 295.3,498.5 295.8,499.1 296.3,499.1 296.8,498.2 297.3,496.6 297.8,494.4 298.3,491.9 298.8,489.4 299.3,487.2 299.8,485.4 300.3,484.3 300.8,484.2 301.3,484.9 301.8,486.3 302.3,488.3 302.8,490.8 303.3,493.9 303.8,497.3 304.3,501.0 304.8,504.9 305.3,509.0 305.8,513.1 306.3,517.3 306.8,521.3 307.3,525.1 307.8,528.7 308.3,532.0 308.8,534.8 309.3,537.2 309.8,539.0 310.3,540.1 310.8,540.5 311.3,539.9 311.8,538.4 312.3,535.9 312.8,532.6 313.3,528.7 313.8,524.2 314.3,519.3 314.8,514.1 315.3,508.7 315.8,503.3 316.3,497.9 316.8,492.7 317.3,487.8 317.8,483.3 318.3,479.4 318.8,476.1 319.3,473.6 319.8,472.1 320.3,471.5 320.8,472.0 321.3,473.3 321.8,475.3 322.3,477.9 322.8,480.7 323.3,483.8 323.8,486.8 324.3,489.6 324.8,492.2 325.3,494.2 325.8,495.5 326.3,496.0 326.8,495.6 327.3,494.6 327.8,493.0 328.3,491.2 328.8,489.1 329.3,487.1 329.8,485.3 330.3,483.9 330.8,483.0 331.3,482.7 331.8,483.7 332.3,486.0 332.8,489.3 333.3,493.6 333.8,498.6 334.3,504.1 334.8,510.0 335.3,516.1 335.8,522.3 336.3,528.2 336.8,533.9 337.3,539.0 337.8,543.4 338.3,546.9 338.8,549.4 339.3,550.7 339.8,550.7 340.3,549.9 340.8,548.4 341.3,546.5 341.8,544.1 342.3,541.4 342.8,538.6 343.3,535.6 343.8,532.6 344.3,529.8 344.8,527.2 345.3,524.9 345.8,523.0 346.3,521.7 346.8,521.1 347.3,521.1 347.8,521.9 348.3,523.3 348.8,525.3 349.3,527.6 349.8,530.3 350.3,533.1 350.8,536.1 351.3,539.2 351.8,542.1 352.3,544.9 352.8,547.3 353.3,549.5 353.8,551.1 354.3,552.1 354.8,552.5 355.3,551.9 355.8,550.1 356.3,547.4 356.8,543.9 357.3,539.8 357.8,535.2 358.3,530.5 358.8,525.7 359.3,521.0 359.8,516.6 360.3,512.7 360.8,509.5 361.3,507.2 361.8,505.8 362.3,505.7 362.8,506.3 363.3,507.5 363.8,509.2 364.3,511.3 364.8,513.5 365.3,515.8 365.8,518.1 366.3,520.2 366.8,522.0 367.3,523.3 367.8,524.1 368.3,524.1 368.8,523.2 369.3,521.4 369.8,519.0 370.3,516.1 370.8,512.9 371.3,509.7 371.8,506.6 372.3,503.8 372.8,501.5 373.3,499.9 373.8,499.1 374.3,499.6 374.8,501.5 375.3,504.6 375.8,508.6 376.3,513.5 376.8,518.8 377.3,524.5 377.8,530.4 378.3,536.1 378.8,541.4 379.3,546.3 379.8,550.3 380.3,553.4 380.8,555.3 381.3,555.8 381.8,554.9 382.3,552.9 382.8,549.9 383.3,546.2 383.8,541.8 384.3,537.0 384.8,531.9 385.3,526.6 385.8,521.4 386.3,516.3 386.8,511.7 387.3,507.5 387.8,504.1 388.3,501.5 388.8,499.9 389.3,498.9 389.8,498.0 390.3,497.3 390.8,496.8 391.3,496.7 391.8,497.0 392.3,497.5 392.8,498.2 393.3,498.9 393.8,499.5 394.3,499.9 394.8,499.8 395.3,498.9 395.8,497.5 396.3,495.5 396.8,493.0 397.3,490.3 397.8,487.3 398.3,484.3 398.8,481.3 399.3,478.3 399.8,475.7 400.3,473.3 400.8,471.4 401.3,470.0 401.8,469.4 402.3,469.5 402.8,470.7 403.3,472.8 403.8,475.7 404.3,479.2 404.8,483.2 405.3,487.5 405.8,492.0 406.3,496.5 406.8,500.8 407.3,504.9 407.8,508.5 408.3,511.6 408.8,513.9 409.3,515.2 409.8,515.6 410.3,515.3 410.8,514.6 411.3,513.6 411.8,512.4 412.3,511.2 412.8,510.0 413.3,508.9 413.8,508.1 414.3,507.6 414.8,507.5 415.3,508.0 415.8,508.8 416.3,509.8 416.8,511.1 417.3,512.5 417.8,513.9 418.3,515.3 418.8,516.4 419.3,517.4 419.8,517.9 420.3,518.1 420.8,517.6 421.3,516.5 421.8,514.9 422.3,512.9 422.8,510.7 423.3,508.3 423.8,505.9 424.3,503.5 424.8,501.4 425.3,499.5 425.8,498.1 426.3,497.2 426.8,497.0 427.3,497.0 427.8,497.1 428.3,497.2 428.8,497.3 429.3,497.4 429.8,497.6 430.3,497.7 430.8,497.9 431.3,498.1 431.8,498.3 432.3,498.6 432.8,498.8 433.3,499.2 433.8,499.7 434.3,500.4 434.8,501.1 435.3,501.8 435.8,502.7 436.3,503.6 436.8,504.5 437.3,505.4 437.8,506.4 438.3,507.3 438.8,508.2 439.3,509.1 439.8,510.0 440.3,510.7 440.8,511.4 441.3,512.2 441.8,513.0 442.3,513.8 442.8,514.7 443.3,515.5 443.8,516.3 444.3,517.2 444.8,517.9 445.3,518.7 445.8,519.3 446.3,519.9 446.8,520.4 447.3,520.8 447.8,521.1 448.3,521.3 448.8,521.2 449.3,520.0 449.8,517.7 450.3,514.6 450.8,510.7 451.3,506.4 451.8,501.9 452.3,497.4 452.8,493.0 453.3,489.0 453.8,485.7 454.3,483.3 454.8,481.8 455.3,481.7 455.8,482.4 456.3,483.8 456.8,485.7 457.3,488.0 457.8,490.4 458.3,492.9 458.8,495.3 459.3,497.4 459.8,499.0 460.3,500.0 460.8,500.3 461.3,499.2 461.8,496.8 462.3,493.3 462.8,488.9 463.3,483.9 463.8,478.4 464.3,472.8 464.8,467.2 465.3,461.9 465.8,457.1 466.3,453.1 466.8,450.0 467.3,448.1 467.8,447.6 468.3,448.6 468.8,451.0 469.3,454.3 469.8,458.5 470.3,463.4 470.8,468.6 471.3,474.1 471.8,479.5 472.3,484.7 472.8,489.5 473.3,493.5 473.8,496.7 474.3,498.8 474.8,499.5 475.3,498.8 475.8,497.0 476.3,494.2 476.8,491.0 477.3,487.4 477.8,483.9 478.3,480.7 478.8,478.1 479.3,476.4 479.8,476.0 480.3,476.6 480.8,478.0 481.3,480.0 481.8,482.5 482.3,485.6 482.8,488.9 483.3,492.6 483.8,496.3 484.3,500.1 484.8,503.9 485.3,507.5 485.8,510.8 486.3,513.7 486.8,516.2 487.3,518.1 487.8,519.3 488.3,519.7 488.8,519.0 489.3,517.0 489.8,513.8 490.3,509.7 490.8,504.9 491.3,499.4 491.8,493.6 492.3,487.5 492.8,481.4 493.3,475.3 493.8,469.6 494.3,464.4 494.8,459.8 495.3,456.1 495.8,453.4 496.3,451.9 496.8,451.7 497.3,453.1 497.8,455.6 498.3,459.0 498.8,462.9 499.3,467.1 499.8,471.1 500.3,474.8 500.8,477.7 501.3,479.5 501.8,480.0 502.3,479.0 502.8,476.8 503.3,473.5 503.8,469.6 504.3,465.1 504.8,460.3 505.3,455.4 505.8,450.8 506.3,446.6 506.8,443.0 507.3,440.4 507.8,438.9 508.3,438.7 508.8,439.8 509.3,442.1 509.8,445.2 510.3,449.1 510.8,453.6 511.3,458.5 511.8,463.6 512.3,468.8 512.8,473.9 513.3,478.7 513.8,483.1 514.3,486.9 514.8,489.9 515.3,491.9 515.8,492.8 516.3,492.3 516.8,490.4 517.3,487.3 517.8,483.0 518.3,477.9 518.8,472.0 519.3,465.6 519.8,458.8 520.3,451.8 520.8,444.8 521.3,437.9 521.8,431.4 522.3,425.4 522.8,420.1 523.3,415.7 523.8,412.3 524.3,410.2 524.8,409.4 525.3,409.7 525.8,410.6 526.3,411.9 526.8,413.5 527.3,415.4 527.8,417.3 528.3,419.2 528.8,420.9 529.3,422.3 529.8,423.4 530.3,423.9 530.8,423.8 531.3,422.4 531.8,420.1 532.3,417.0 532.8,413.6 533.3,409.9 533.8,406.3 534.3,403.1 534.8,400.4 535.3,398.7 535.8,398.0 536.3,398.6 536.8,400.1 537.3,402.5 537.8,405.5 538.3,408.9 538.8,412.6 539.3,416.5 539.8,420.2 540.3,423.7 540.8,427.0 541.3,430.9 541.8,435.3 542.3,439.8 542.8,444.3 543.3,448.4 543.8,451.9 544.3,454.6 544.8,456.1 545.3,456.3 545.8,454.8 546.3,452.0 546.8,448.2 547.3,443.9 547.8,439.3 548.3,434.8 548.8,430.8 549.3,427.7 549.8,425.8 550.3,424.9 550.8,424.1 551.3,423.4 551.8,422.7 552.3,422.1 552.8,421.5 553.3,421.0 553.8,420.6 554.3,420.3 554.8,420.1 555.3,420.0 555.8,420.0 556.3,420.3 556.8,420.9 557.3,421.6 557.8,422.4 558.3,423.2 558.8,423.9 559.3,424.5 559.8,424.8 560.3,424.7 560.8,424.2 561.3,423.3 561.8,422.0 562.3,420.3 562.8,418.3 563.3,416.0 563.8,413.3 564.3,410.4 564.8,407.2 565.3,403.8 565.8,400.2 566.1,398.0" stroke="#0000ff" stroke-width="3.0"/>
<polyline points="190.0,399.5 190.1,399.7 190.3,400.0 190.4,400.3 190.6,400.6 190.8,401.0 191.0,401.4 191.3,401.9 191.5,402.3 191.8,402.7 192.1,403.2 192.3,403.5 192.3,403.6 192.3,403.6 192.2,403.5 192.3,403.5 192.4,403.8 192.8,404.3 193.5,405.2 194.6,406.5 196.2,408.5 198.3,411.2 200.9,414.5 204.0,418.5 207.4,422.8 210.9,427.3 214.6,432.0 218.4,436.7 222.0,441.1 225.4,445.3 228.6,449.0 231.5,452.3 234.4,455.5 237.2,458.6 240.0,461.5 242.7,464.3 245.3,467.0 248.0,469.6 250.7,472.2 253.3,474.6 256.0,477.0 258.7,479.3 261.4,481.6 264.2,483.7 266.9,485.8 269.6,487.7 272.3,489.6 274.9,491.4 277.6,493.1 280.1,494.7 282.6,496.2 285.0,497.6 287.2,498.8 289.3,499.8 291.4,500.8 293.4,501.7 295.5,502.5 297.7,503.3 300.0,504.1 302.4,505.0 305.1,505.9 308.0,506.9 311.2,507.9 314.6,509.0 318.1,510.0 321.7,511.1 325.3,512.1 328.9,513.0 332.3,513.9 335.6,514.7 338.6,515.3 341.4,515.8 344.1,516.3 346.7,516.6 349.1,516.9 351.5,517.1 353.9,517.2 356.1,517.3 358.4,517.4 360.6,517.4 362.9,517.4 365.1,517.3 367.2,517.2 369.3,517.0 371.3,516.8 373.3,516.5 375.3,516.2 377.3,515.9 379.4,515.5 381.6,515.2 383.9,514.8 386.3,514.5 388.8,514.1 391.3,513.7 393.9,513.4 396.6,513.0 399.2,512.5 401.9,512.1 404.6,511.6 407.3,511.0 410.0,510.4 412.6,509.8 415.1,509.2 417.6,508.6 420.0,508.0 422.5,507.3 425.1,506.5 427.8,505.7 430.7,504.6 433.8,503.4 437.2,501.9 440.9,500.2 445.0,498.3 449.3,496.3 453.8,494.0 458.4,491.7 463.0,489.2 467.7,486.7 472.3,484.1 476.7,481.4 481.0,478.8 485.1,476.2 489.0,473.5 492.9,470.9 496.8,468.1 500.6,465.3 504.3,462.4 508.2,459.3 512.0,456.1 516.0,452.7 520.0,449.0 524.3,444.9 529.0,440.2 533.8,435.1 538.7,429.9 543.6,424.5 548.3,419.3 552.8,414.4 556.7,410.0 560.2,406.2 562.9,403.2 564.9,401.0 566.3,399.6 567.1,398.6 567.5,398.1 567.6,398.0 567.5,398.1 567.3,398.3 567.1,398.5 566.9,398.6 567.0,398.5" stroke="#008000" stroke-width="3.0"/>
</g>
<circle cx="192.10" cy="403.20" r="5.80" fill="none" stroke="#008000" stroke-width="2.2"/>
<circle cx="383.90" cy="514.80" r="5.80" fill="none" stroke="#008000" stroke-width="2.2"/>
<g clip-path="url(#ci)" fill="none" stroke-linejoin="round" stroke-linecap="round">
<polyline points="190.0,397.0 190.1,397.2 190.2,397.2 190.1,397.1 190.1,397.1 190.2,397.2 190.4,397.5 190.9,398.0 191.7,398.9 192.9,400.2 194.6,402.0 196.8,404.4 199.6,407.4 202.7,410.9 206.2,414.7 209.9,418.8 213.8,423.0 217.7,427.2 221.5,431.3 225.2,435.2 228.6,438.8 231.9,442.2 235.1,445.5 238.3,448.8 241.6,452.1 244.7,455.3 247.9,458.4 251.0,461.4 254.0,464.3 257.0,467.1 260.0,469.8 262.9,472.4 265.8,474.8 268.7,477.2 271.5,479.5 274.3,481.7 277.1,483.7 279.7,485.7 282.2,487.6 284.7,489.3 287.0,490.9 289.2,492.4 291.3,493.6 293.4,494.8 295.3,495.8 297.2,496.8 298.9,497.6 300.6,498.4 302.2,499.2 303.7,499.9 305.1,500.7 306.3,501.4 307.3,502.1 308.0,502.6 308.7,503.1 309.3,503.6 310.0,504.1 310.7,504.6 311.6,505.2 312.8,505.7 314.3,506.4 316.1,507.2 318.2,508.0 320.5,508.9 322.9,509.8 325.5,510.8 328.2,511.7 330.8,512.6 333.5,513.4 336.1,514.2 338.6,514.8 341.0,515.3 343.5,515.8 345.9,516.2 348.4,516.5 350.9,516.8 353.3,517.0 355.7,517.2 358.1,517.4 360.5,517.6 362.9,517.7 365.2,517.8 367.5,518.0 369.7,518.1 372.0,518.2 374.2,518.2 376.4,518.2 378.6,518.2 380.9,518.1 383.2,517.9 385.5,517.7 387.9,517.4 390.2,517.0 392.6,516.5 395.0,516.0 397.5,515.4 399.9,514.8 402.4,514.2 404.9,513.5 407.4,512.7 410.0,512.0 412.7,511.2 415.5,510.3 418.5,509.4 421.5,508.4 424.5,507.3 427.4,506.3 430.2,505.3 432.8,504.4 435.2,503.5 437.2,502.7 438.8,502.0 439.9,501.5 440.7,501.2 441.2,500.8 441.7,500.5 442.2,500.1 442.8,499.6 443.8,499.0 445.1,498.1 447.0,497.0 449.4,495.7 452.2,494.2 455.3,492.5 458.6,490.8 462.2,488.9 465.9,486.8 469.7,484.7 473.5,482.4 477.3,480.1 481.0,477.6 484.7,475.0 488.4,472.4 492.2,469.6 496.1,466.8 499.9,463.8 503.9,460.7 507.9,457.4 511.9,454.0 515.9,450.5 520.0,446.8 524.3,442.7 529.0,438.1 533.8,433.1 538.7,428.0 543.6,422.8 548.3,417.7 552.8,413.0 556.7,408.6 560.2,404.9 562.9,402.0 564.9,399.9 566.3,398.4 567.1,397.4 567.5,396.9 567.6,396.7 567.5,396.7 567.3,396.9 567.1,397.0 566.9,397.1 567.0,397.0" stroke="#ff0000" stroke-width="3.0"/>
</g>
<rect x="282.30" y="486.30" width="9.40" height="9.40" fill="none" stroke="#ff0000" stroke-width="2.4"/>
<rect x="433.30" y="499.60" width="9.40" height="9.40" fill="none" stroke="#ff0000" stroke-width="2.4"/>
<text class="tk" x="186.50" y="596.30" text-anchor="middle">3.2</text>
<text class="tk" x="279.90" y="596.30" text-anchor="middle">3.1</text>
<text class="tk" x="373.30" y="596.30" text-anchor="middle">3</text>
<text class="tk" x="466.70" y="596.30" text-anchor="middle">2.9</text>
<text class="tk" x="560.10" y="596.30" text-anchor="middle">2.8</text>
<text class="tk" x="152.30" y="433.20" text-anchor="end">&#8211;60</text>
<text class="tk" x="152.30" y="498.60" text-anchor="end">&#8211;62</text>
<text class="tk" x="152.30" y="564.00" text-anchor="end">&#8211;64</text>
</svg></body></html>
